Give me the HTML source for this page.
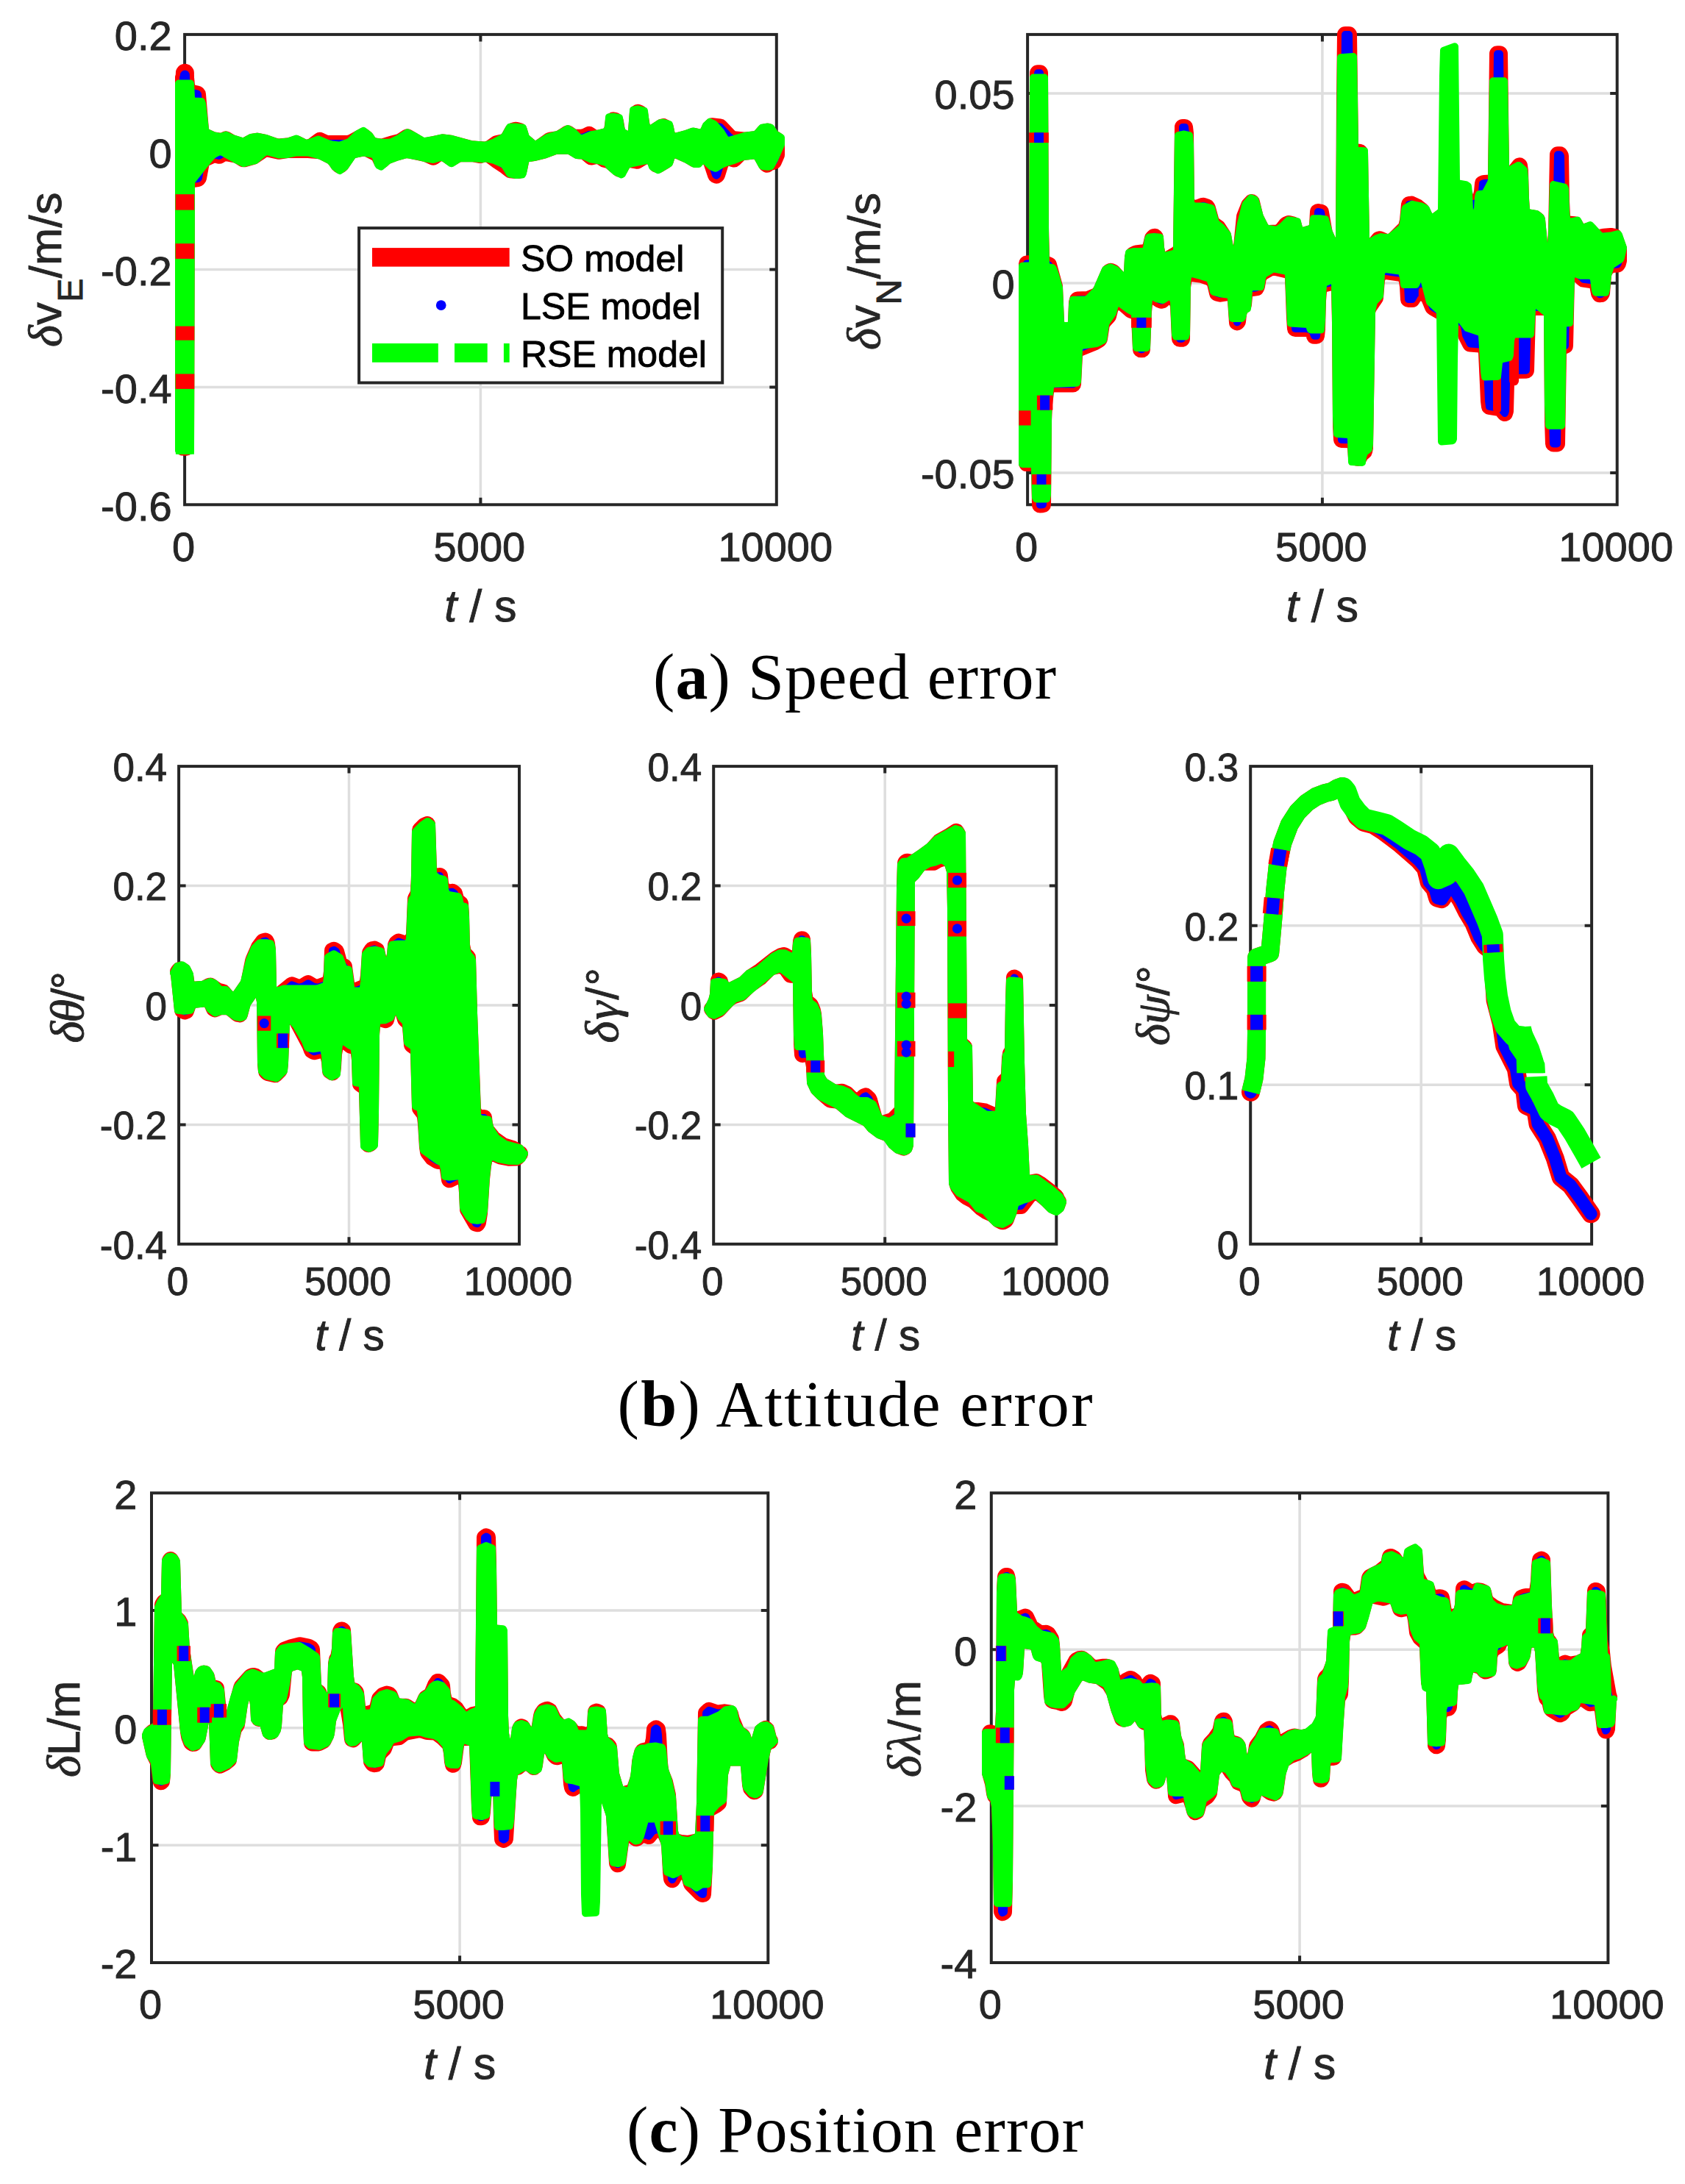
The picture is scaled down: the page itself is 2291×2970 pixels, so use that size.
<!DOCTYPE html>
<html lang="en"><head><meta charset="utf-8"><title>Navigation error comparison</title>
<style>html,body{margin:0;padding:0;background:#fff}svg{display:block}.t{font-family:"Liberation Sans", "DejaVu Sans", sans-serif;font-size:56px;fill:#262626;stroke:#262626;stroke-width:0.9px}.l{font-size:61px}.lg{font-size:50px;fill:#000;stroke:#000}.cap{font-family:"Liberation Serif", "DejaVu Serif", serif;font-size:88px;fill:#000}.m{font-family:"Liberation Serif", "DejaVu Serif", serif;font-style:italic}.r{fill:none;stroke:#f00;stroke-linejoin:round;stroke-linecap:round}.b{fill:none;stroke:#00f;stroke-linejoin:round;stroke-linecap:round}.g{fill:none;stroke:#0f0;stroke-linejoin:round;stroke-linecap:butt}</style></head><body>
<svg width="2291" height="2970" viewBox="0 0 2291 2970">
<rect width="2291" height="2970" fill="#fff"/>
<g id="p1">
<path d="M653.4 46.9V686.3M251.1 206.8H1055.8M251.1 366.6H1055.8M251.1 526.5H1055.8" stroke="#dedede" stroke-width="3.5" fill="none"/>
<path d="M653.4 686.3v-9.5M653.4 46.9v9.5M251.1 206.8h9.5M1055.8 206.8h-9.5M251.1 366.6h9.5M1055.8 366.6h-9.5M251.1 526.5h9.5M1055.8 526.5h-9.5" stroke="#262626" stroke-width="4" fill="none"/>
<rect x="251.1" y="46.9" width="804.7" height="639.4" stroke="#262626" stroke-width="4" fill="none"/>
<clipPath id="cp1"><rect x="211.1" y="6.9" width="884.7" height="719.4"/></clipPath>
<path d="M249 105.8 253 105.8 254 115.7 255 120.3 257 123.3 261 125.9 268 127.4 269 128.4 273 175.8 274 180.4 276 183.3 279 185.6 289 190.1 300 191.9 304 191.2 307 189.4 315 194 329 198.4 334 197.7 343 192.8 350 191.7 360 193.8 377 199.6 393 198.3 403 195.2 413 200.1 416 200.8 419 200.7 424 199 435 190.9 442 194.2 446 195 473 195 478 193.6 493 185.3 494 185.3 498 188.4 501 193.4 504 196.3 508 198.2 517 199.7 521 199.3 533 195.4 544 192.8 554 186.3 571 196.7 575 198.3 579 198.3 602 193.5 611 194.4 640 202.2 661 203.7 666 201.9 675 195.2 685 192.9 688 191.5 691 188.6 697 178 701 176.7 706 178 709 188.4 712 192.3 722 200.5 725 201.9 729 202.3 734 200.5 748 190.6 758 189.2 761 188.3 772 181.4 778 185.5 782 186.7 792 186.5 795 185.8 801 182.9 806 186.5 811 187.9 814 187.7 825 184.9 829 182.2 832 177.5 834 163.3 836 163.9 837 165.8 839 177.9 840 180.7 842 183.6 845 185.9 851 188.7 855 189 858 188.3 862 185.6 864 182.7 865 178.1 867 152.8 870 154 873 172.7 875 176.3 877 178.5 882 180.8 887 180.6 890 179.2 900 172.6 902 172.1 905 173.7 907 184.3 908 186 912 190 916 191.6 921 191.3 934 187.8 943 184.7 951 186.6 956 185.9 959 184.1 961 182 963 179.1 965 174.4 968 171.3 979 172.4 992 186.3 995 188.2 998 189.2 1013 190.6 1027 189.2 1030 188.2 1033 186.3 1039 179.6 1044 178.7 1049 185.9 1056 190.5 1056 210.4 1052 219.6 1046 221.5 1043 223.7 1042 223.3 1035 210.6 1033 208.5 1030 206.5 1025 205.3 1009 207.2 1005 209.5 998 216.5 993 214.9 990 214.8 987 215.5 983 217.9 980 221.8 975 237.8 974 238.6 973 238 967 220 964 215.7 962 214 958 212.4 954 212.4 950 214 947 216.9 945 216.8 936 211.4 920 204.4 915 204.7 910 207.3 907 211.2 905 218.3 895 224.3 893 223.7 890 217.4 888 215.3 884 212.9 879 212.2 875 213.3 866 218.7 856 217 851 218.2 847 221.7 843 229.1 842 229.8 830 219.4 827 218.1 822 216.9 816 212.9 811 211.9 804 213.4 796 206.8 792 205.4 786 205.2 778 200.3 775 199.1 772 198.7 755 198.9 740 204.5 726 208 717 209.3 714 210.3 711 212.5 709 215.5 706 230.1 705 231.9 702 232.1 694 231.3 688 226.4 677 219.1 666 210.9 662 209.3 658 209.3 653 211.1 643 209.2 626 209.2 621 210.6 614 215 606 209.5 602 208.3 599 208.1 596 208.8 589 213.7 579 209.3 556 204.2 552 204 537 208.3 526 212.4 523 214.2 519 218.1 518 217.6 515 211.5 512 208.6 499 202.2 494 201.4 480 204.3 476 206.4 473 209.8 464 223.3 462 225.1 460 223.4 456 217.5 453 214.1 439 206.8 435 205.4 419 204 392 203.9 379 205.8 365 202.8 362 202.7 359 203.4 356 204.9 345 212.6 332 216.3 331 216.3 324 212 321 210.8 307 207.9 303 208.7 298 211.8 293 210.6 289 210.9 279 215.5 276 217.7 274 220.7 270 242.1 269 243 262 244 258 246.1 255 250 254 254.6 253 608.6 249 608.6Z" fill="#f00" stroke="#f00" stroke-width="22" stroke-linejoin="round"/>
<path class="r" stroke-width="25" d="M251.4 99.3 251.4 607"/>
<path d="M249 105.8 253 105.8 254 115.7 255 120.3 257 123.3 261 125.9 268 127.4 269 128.4 273 175.8 274 180.4 276 183.3 279 185.6 289 190.1 300 191.9 304 191.2 307 189.4 315 194 329 198.4 334 197.7 343 192.8 350 191.7 360 193.8 377 199.6 393 198.3 403 195.2 413 200.1 416 200.8 419 200.7 424 199 435 190.9 442 194.2 446 195 473 195 478 193.6 493 185.3 494 185.3 498 188.4 501 193.4 504 196.3 508 198.2 517 199.7 521 199.3 533 195.4 544 192.8 554 186.3 571 196.7 575 198.3 579 198.3 602 193.5 611 194.4 640 202.2 661 203.7 666 201.9 675 195.2 685 192.9 688 191.5 691 188.6 697 178 701 176.7 706 178 709 188.4 712 192.3 722 200.5 725 201.9 729 202.3 734 200.5 748 190.6 758 189.2 761 188.3 772 181.4 778 185.5 782 186.7 792 186.5 795 185.8 801 182.9 806 186.5 811 187.9 814 187.7 825 184.9 829 182.2 832 177.5 834 163.3 836 163.9 837 165.8 839 177.9 840 180.7 842 183.6 845 185.9 851 188.7 855 189 858 188.3 862 185.6 864 182.7 865 178.1 867 152.8 870 154 873 172.7 875 176.3 877 178.5 882 180.8 887 180.6 890 179.2 900 172.6 902 172.1 905 173.7 907 184.3 908 186 912 190 916 191.6 921 191.3 934 187.8 943 184.7 951 186.6 956 185.9 959 184.1 961 182 963 179.1 965 174.4 968 171.3 979 172.4 992 186.3 995 188.2 998 189.2 1013 190.6 1027 189.2 1030 188.2 1033 186.3 1039 179.6 1044 178.7 1049 185.9 1056 190.5 1056 210.4 1052 219.6 1046 221.5 1043 223.7 1042 223.3 1035 210.6 1033 208.5 1030 206.5 1025 205.3 1009 207.2 1005 209.5 998 216.5 993 214.9 990 214.8 987 215.5 983 217.9 980 221.8 975 237.8 974 238.6 973 238 967 220 964 215.7 962 214 958 212.4 954 212.4 950 214 947 216.9 945 216.8 936 211.4 920 204.4 915 204.7 910 207.3 907 211.2 905 218.3 895 224.3 893 223.7 890 217.4 888 215.3 884 212.9 879 212.2 875 213.3 866 218.7 856 217 851 218.2 847 221.7 843 229.1 842 229.8 830 219.4 827 218.1 822 216.9 816 212.9 811 211.9 804 213.4 796 206.8 792 205.4 786 205.2 778 200.3 775 199.1 772 198.7 755 198.9 740 204.5 726 208 717 209.3 714 210.3 711 212.5 709 215.5 706 230.1 705 231.9 702 232.1 694 231.3 688 226.4 677 219.1 666 210.9 662 209.3 658 209.3 653 211.1 643 209.2 626 209.2 621 210.6 614 215 606 209.5 602 208.3 599 208.1 596 208.8 589 213.7 579 209.3 556 204.2 552 204 537 208.3 526 212.4 523 214.2 519 218.1 518 217.6 515 211.5 512 208.6 499 202.2 494 201.4 480 204.3 476 206.4 473 209.8 464 223.3 462 225.1 460 223.4 456 217.5 453 214.1 439 206.8 435 205.4 419 204 392 203.9 379 205.8 365 202.8 362 202.7 359 203.4 356 204.9 345 212.6 332 216.3 331 216.3 324 212 321 210.8 307 207.9 303 208.7 298 211.8 293 210.6 289 210.9 279 215.5 276 217.7 274 220.7 270 242.1 269 243 262 244 258 246.1 255 250 254 254.6 253 608.6 249 608.6Z" fill="#00f" stroke="#00f" stroke-width="10" stroke-linejoin="round"/>
<path class="b" stroke-width="13" d="M251.4 102 251.4 611"/>
<path d="M243 113.6 259 113.6 260 132.7 261 135.7 264 137.6 274 138.1 275 140.9 279 175.8 280 178.8 281 179.8 290 184.1 299 185.8 301 185.8 307 183.6 317 188.4 330 192.4 333 191.5 341 187 350 185.6 361 187.8 376 193.2 379 193.7 392 192.4 403 188.5 415 194.4 418 194.9 433 189.5 446 195.2 451 196.4 462 197.7 475 192.9 486 182.3 494 177.8 502 183.9 507 191 510 192.5 517 193.7 529 193.8 532 193.3 543 187.7 554 180.3 564 185.3 576 192.3 590 189.9 601 187.3 613 188.6 641 196.3 660 197.7 672 193.5 685 186.4 687 183.8 693 172.8 701 172.4 711 173.7 715 186.8 724 194.6 726 195.9 728 196.3 730 195.9 745 186.5 759 182.7 772 175.1 780 180 787 187 791 188.4 793 187.9 804 183.1 813 181.8 823 179.2 825 177.6 827 172.9 828 159.3 834 158.6 842 160.2 844 173.3 846 179.1 852 182.7 854 183.1 856 182.7 858 181.1 859 178.1 861 149.7 867 148.3 876 150.8 878 168.1 879 171.1 881 174 883 174.9 886 174.6 897 167.4 901 166.6 910 169.1 913 182.7 915 184.7 917 185.6 919 185.6 932 182.1 942 178.5 951 180.5 954 180.2 957 177.5 960 170.5 965 165.9 971 168.8 980 179 986 188.6 988 190.2 990 190.9 992 190.9 1013 184.7 1027 183 1030 180.8 1036 173.8 1044 172.5 1048 173.5 1054 182.4 1062 187 1062 196.4 1053 216.9 1048 226.1 1044 226.8 1037 226 1036 225 1030 214 1026 211.4 1010 213.1 998 217.9 988 220.9 982 223.3 973 228.8 967 226.3 959 218.8 956 218.2 954 218.7 952 220.2 950 222.9 944 223 933 216.6 920 210.7 918 210.3 915 211.2 913 212.7 910 222.3 895 231.3 887 226.8 885 220.8 883 218.9 881 218 879 218 854 223.3 852 224.9 846 236.6 845 237.4 837 233.5 828 225.5 826 222.5 824 221 813 218 804 216.6 792 211.5 784 211.1 775 205.5 772 204.7 756 204.8 742 210.1 727 213.9 717 215.5 715 217.1 714 220.1 711 235.7 710 237.6 702 238.1 693 236.3 687 226.3 684 223.3 672 218 660 215.1 656 216.3 642 215.1 626 215.2 624 215.8 614 222.2 613 221.9 604 215.3 601 214 599 214 589 217 578 215.2 567 212.5 553 210 538 214.3 528 218.1 518 226.6 515 225.1 514 223.7 511 214.1 509 210.8 507 209.9 494 207.4 482 210 480 210.9 469 226.7 462 232.1 455 226.8 451 220.8 448 218 435 211.6 419 207.5 403 207.3 391 209.9 379 210.4 364 206.2 362 206.2 359 207.6 347 218.2 331 222.1 320 216.7 301 206.1 298 206.4 291 209.9 288 212.2 275 227.8 261 245.6 260 248.6 259 612.8 243 612.8Z" fill="#0f0" stroke="#0f0" stroke-width="10" stroke-linejoin="round"/>
<path class="g" stroke-width="25" d="M251.4 121.4 251.4 617.7"/>
<rect x="238.6" y="264.2" width="25.6" height="21.4" fill="#f00"/>
<rect x="238.6" y="331.2" width="25.6" height="20.7" fill="#f00"/>
<rect x="238.6" y="443.6" width="25.6" height="19.1" fill="#f00"/>
<rect x="238.6" y="508.5" width="25.6" height="20.4" fill="#f00"/>
<g font-size="56">
<text class="t" x="233.6" y="68.2" text-anchor="end" style="font-size:56px">0.2</text>
<text class="t" x="233.6" y="228.1" text-anchor="end" style="font-size:56px">0</text>
<text class="t" x="233.6" y="387.9" text-anchor="end" style="font-size:56px">-0.2</text>
<text class="t" x="233.6" y="547.8" text-anchor="end" style="font-size:56px">-0.4</text>
<text class="t" x="233.6" y="707.6" text-anchor="end" style="font-size:56px">-0.6</text>
<text class="t" x="249.6" y="762.7" text-anchor="middle" style="font-size:56px">0</text>
<text class="t" x="651.9" y="762.7" text-anchor="middle" style="font-size:56px">5000</text>
<text class="t" x="1054.3" y="762.7" text-anchor="middle" style="font-size:56px">10000</text>
</g>
<text class="t" x="653.4" y="844.6" text-anchor="middle" style="font-size:61px"><tspan font-style="italic">t</tspan> / s</text>
</g>
<g id="p2">
<path d="M1797.9 46.9V686.3M1397.1 126.9H2198.7M1397.1 384.9H2198.7M1397.1 642.9H2198.7" stroke="#dedede" stroke-width="3.5" fill="none"/>
<path d="M1797.9 686.3v-9.5M1797.9 46.9v9.5M1397.1 126.9h9.5M2198.7 126.9h-9.5M1397.1 384.9h9.5M2198.7 384.9h-9.5M1397.1 642.9h9.5M2198.7 642.9h-9.5" stroke="#262626" stroke-width="4" fill="none"/>
<rect x="1397.1" y="46.9" width="801.6" height="639.4" stroke="#262626" stroke-width="4" fill="none"/>
<clipPath id="cp2"><rect x="1357.1" y="6.9" width="881.6" height="719.4"/></clipPath>
<path d="M1396 358.5 1402 358.1 1406 356 1409 352.1 1410 347.5 1411 99.3 1414 99.3 1415 309.3 1416 349.2 1417 353.8 1419 356.7 1422 359 1426 360.2 1434 389.5 1436 438 1437 442.6 1438 444.3 1442 447.8 1446 449 1453 449 1457 447.8 1460 445.6 1462 442.6 1463 438 1464 411.6 1465 407.6 1479 407.1 1491 402 1493 400.7 1497 395.6 1508 370 1510 368.7 1513 369.9 1521 378.8 1525 380.9 1528 381.3 1531 380.9 1534 379.5 1536 377.9 1538 374.9 1539 370.3 1540 350.3 1541 346.4 1545 344.4 1557 342.8 1561 340.7 1564 336.8 1567 324.1 1569 322.1 1570 321.8 1571 322.8 1572 337.3 1574 347 1576 350 1579 352.2 1583 353.4 1588 352.7 1601 344.8 1604 341.9 1605 340.1 1606 335.5 1608 172.9 1611 172.9 1612 181.4 1613 271.4 1614 275.9 1617 279.8 1620 281.8 1623 282.8 1628 282.6 1636 279.7 1641 281.6 1642 283.3 1647 301.6 1650 305.5 1656 309.8 1663 320.5 1666 336.3 1668 340.9 1670 343 1674 345.1 1679 345.4 1684 343 1687 339.1 1688 334.5 1692 294.5 1698 279.5 1702 275.1 1707 296 1715 311.8 1717 313.9 1720 315.9 1725 317.1 1736 316.4 1739 315.7 1743 313 1749 305.3 1752 304 1758 305.5 1759 306.4 1760 311 1762 315.3 1764 317.5 1767 319.2 1770 319.9 1773 319.8 1784 316.5 1788 313.8 1790 310.8 1791 306.2 1792 288 1793 288.1 1796 288.8 1801 317.5 1807 330.4 1810 333.3 1814 334.9 1818 334.9 1822 333.3 1824 331.6 1826 328.6 1827 324.1 1828 136.4 1829 47.1 1834 47.1 1836 195.7 1837 200.3 1840 204.2 1844 206.3 1849 207 1851 324 1852 328.6 1855 332.5 1860 334.8 1863 335 1866 334.3 1869 332.5 1875 325.4 1876 325.3 1883 328.4 1886 329.1 1890 328.8 1895 326.2 1910 311.3 1912 308.3 1914 299.8 1916 277.9 1919 277.6 1927 281.5 1933 286.3 1938 296.6 1941 299.5 1946 301.3 1951 300.7 1954 299.4 1962 293.5 1966 288.7 1987 272.4 1990 269.2 1992 266 1993 270.5 1994 272.3 1998 275.8 2001 276.8 2004 276.9 2009 275.2 2011 273.5 2013 270.5 2015 260.7 2016 249.7 2018 249 2026 248.6 2029 247.2 2032 244.3 2033 242.6 2034 238 2036 73.2 2039 73.2 2041 225.7 2042 230.2 2044 233.2 2048 235.9 2052 236.7 2056 235.9 2059 234.2 2066 225.3 2067 232.8 2068 269.4 2069 284.7 2070 289.3 2072 292.2 2075 294.5 2078 295.5 2087 296.8 2090 299.3 2093 330.6 2094 335.2 2095 337 2097 339.1 2100 340.9 2103 341.6 2107 341.2 2110 339.9 2113 337 2114 335.2 2115 330.6 2116 312.7 2118 210.3 2121 210.3 2122 212.1 2123 273.7 2124 293.8 2125 298.4 2126 300.2 2129 303 2132 304.4 2141 305.1 2145 312 2149 314.7 2154 315.4 2160 313.4 2161 313.8 2167 320.5 2171 322.6 2176 322.9 2181 321.6 2190 320.9 2195 321.8 2201 338.5 2201 354.2 2200 358.1 2199 359.5 2192 359.9 2188 361.5 2184 365.1 2181 370 2180 374.6 2178 398.6 2177 400.1 2175 400.2 2174 398.9 2172 387.8 2171 386.1 2169 383.9 2166 382.1 2163 381.1 2153 379.7 2147 373.8 2142 372.1 2138 372.5 2135 373.8 2133 375.5 2131 378.5 2130 383 2128 470.1 2125 471.1 2122 473.3 2120 476.3 2119 480.9 2117 603.4 2112 603.4 2111 572.9 2110 428.8 2109 424.2 2107 421.3 2104 419 2101 418 2087 417.9 2082 419.6 2080 421.3 2078 424.2 2077 428.8 2075 503.7 2057 504.1 2053 506.2 2050 510.1 2048 521 2047 559 2046 562 2042 557.3 2038 555 2025 552.8 2024 545.1 2021 479.4 2020 474.8 2018 471.9 2015 469.6 2012 468.6 1999 467.5 1993 455.7 1991 443.1 1989 440.2 1984 436.6 1964 429.7 1960 424.7 1949 418.4 1948 417.5 1942 403.1 1940 400.1 1938 398.5 1933 396.7 1928 397.4 1924 400.1 1920 407.1 1915 407.1 1914 389.4 1913 382.7 1912 378.1 1909 374.2 1904 371.9 1883 368.9 1880 369.6 1877 371.4 1873 376.3 1872 380.9 1870 404.8 1862 416.6 1860 420.4 1859 425 1856 609 1855 613.9 1851 617 1848 621.9 1847 622.7 1844 622.5 1843 608.9 1842 604.3 1841 602.6 1838 599.7 1835 598.3 1824 597.9 1823 579.4 1822 440 1821 395.2 1820 390.6 1818 387.7 1816 386 1813 384.6 1809 384.3 1799 386.7 1796 388.9 1794 391.9 1793 396.5 1792 408.8 1791 447.4 1790 456.8 1787 456.7 1785 451.6 1783 449.5 1780 447.7 1776 447 1761 447 1760 432.3 1758 378.1 1757 373.5 1755 370.6 1751 367.9 1732 363.2 1727 364.4 1716 370.7 1714 372.4 1711 377.6 1709 389.2 1708 391.4 1699 392.5 1696 394.2 1694 396.4 1693 398.1 1692 402.7 1691 413.8 1690 416.1 1687 419 1685 422.9 1684 427.5 1683 437.1 1682 438.4 1680 408.9 1679 404.3 1676 400.4 1673 398.6 1670 397.9 1659 399.7 1655 398.6 1652 385.6 1651 383.3 1649 380.3 1645 377.6 1634 373.8 1621 372 1617 372.3 1613 374.4 1610 378.3 1608 390.2 1607 460.8 1604 460.8 1602 416.3 1601 411.8 1598 406.7 1595 404.5 1591 403.3 1586 404 1583 405.8 1580 408.5 1579 408.7 1576 407.4 1572 404.3 1569 403.3 1565 403.3 1561 404.9 1559 406.6 1557 409.6 1556 414.1 1555 423.5 1553 475.2 1551 475.2 1549 433.2 1548 428.6 1547 426.9 1543 423.4 1538 421.9 1528 413.2 1525 411.5 1522 410.8 1519 410.9 1514 413.2 1512 415 1510 418 1507 429.8 1501 436.2 1498 440.6 1495 460.7 1494 462.2 1488 465.5 1467 474.2 1464 476.4 1462 479.4 1461 484 1459 522.5 1431 522.3 1426 524.6 1423 528.5 1422 533.1 1420 549.9 1419 572.3 1418 686.3 1414 686.5 1413 641.1 1412 636.5 1410 633.5 1406 630.9 1403 630.1 1396 630.1Z" fill="#f00" stroke="#f00" stroke-width="22" stroke-linejoin="round"/>
<path d="M1396 358.5 1402 358.1 1406 356 1409 352.1 1410 347.5 1411 99.3 1414 99.3 1415 309.3 1416 349.2 1417 353.8 1419 356.7 1422 359 1426 360.2 1434 389.5 1436 438 1437 442.6 1438 444.3 1442 447.8 1446 449 1453 449 1457 447.8 1460 445.6 1462 442.6 1463 438 1464 411.6 1465 407.6 1479 407.1 1491 402 1493 400.7 1497 395.6 1508 370 1510 368.7 1513 369.9 1521 378.8 1525 380.9 1528 381.3 1531 380.9 1534 379.5 1536 377.9 1538 374.9 1539 370.3 1540 350.3 1541 346.4 1545 344.4 1557 342.8 1561 340.7 1564 336.8 1567 324.1 1569 322.1 1570 321.8 1571 322.8 1572 337.3 1574 347 1576 350 1579 352.2 1583 353.4 1588 352.7 1601 344.8 1604 341.9 1605 340.1 1606 335.5 1608 172.9 1611 172.9 1612 181.4 1613 271.4 1614 275.9 1617 279.8 1620 281.8 1623 282.8 1628 282.6 1636 279.7 1641 281.6 1642 283.3 1647 301.6 1650 305.5 1656 309.8 1663 320.5 1666 336.3 1668 340.9 1670 343 1674 345.1 1679 345.4 1684 343 1687 339.1 1688 334.5 1692 294.5 1698 279.5 1702 275.1 1707 296 1715 311.8 1717 313.9 1720 315.9 1725 317.1 1736 316.4 1739 315.7 1743 313 1749 305.3 1752 304 1758 305.5 1759 306.4 1760 311 1762 315.3 1764 317.5 1767 319.2 1770 319.9 1773 319.8 1784 316.5 1788 313.8 1790 310.8 1791 306.2 1792 288 1793 288.1 1796 288.8 1801 317.5 1807 330.4 1810 333.3 1814 334.9 1818 334.9 1822 333.3 1824 331.6 1826 328.6 1827 324.1 1828 136.4 1829 47.1 1834 47.1 1836 195.7 1837 200.3 1840 204.2 1844 206.3 1849 207 1851 324 1852 328.6 1855 332.5 1860 334.8 1863 335 1866 334.3 1869 332.5 1875 325.4 1876 325.3 1883 328.4 1886 329.1 1890 328.8 1895 326.2 1910 311.3 1912 308.3 1914 299.8 1916 277.9 1919 277.6 1927 281.5 1933 286.3 1938 296.6 1941 299.5 1946 301.3 1951 300.7 1954 299.4 1962 293.5 1966 288.7 1987 272.4 1990 269.2 1992 266 1993 270.5 1994 272.3 1998 275.8 2001 276.8 2004 276.9 2009 275.2 2011 273.5 2013 270.5 2015 260.7 2016 249.7 2018 249 2026 248.6 2029 247.2 2032 244.3 2033 242.6 2034 238 2036 73.2 2039 73.2 2041 225.7 2042 230.2 2044 233.2 2048 235.9 2052 236.7 2056 235.9 2059 234.2 2066 225.3 2067 232.8 2068 269.4 2069 284.7 2070 289.3 2072 292.2 2075 294.5 2078 295.5 2087 296.8 2090 299.3 2093 330.6 2094 335.2 2095 337 2097 339.1 2100 340.9 2103 341.6 2107 341.2 2110 339.9 2113 337 2114 335.2 2115 330.6 2116 312.7 2118 210.3 2121 210.3 2122 212.1 2123 273.7 2124 293.8 2125 298.4 2126 300.2 2129 303 2132 304.4 2141 305.1 2145 312 2149 314.7 2154 315.4 2160 313.4 2161 313.8 2167 320.5 2171 322.6 2176 322.9 2181 321.6 2190 320.9 2195 321.8 2201 338.5 2201 354.2 2200 358.1 2199 359.5 2192 359.9 2188 361.5 2184 365.1 2181 370 2180 374.6 2178 398.6 2177 400.1 2175 400.2 2174 398.9 2172 387.8 2171 386.1 2169 383.9 2166 382.1 2163 381.1 2153 379.7 2147 373.8 2142 372.1 2138 372.5 2135 373.8 2133 375.5 2131 378.5 2130 383 2128 470.1 2125 471.1 2122 473.3 2120 476.3 2119 480.9 2117 603.4 2112 603.4 2111 572.9 2110 428.8 2109 424.2 2107 421.3 2104 419 2101 418 2087 417.9 2082 419.6 2080 421.3 2078 424.2 2077 428.8 2075 503.7 2057 504.1 2053 506.2 2050 510.1 2048 521 2047 559 2046 562 2042 557.3 2038 555 2025 552.8 2024 545.1 2021 479.4 2020 474.8 2018 471.9 2015 469.6 2012 468.6 1999 467.5 1993 455.7 1991 443.1 1989 440.2 1984 436.6 1964 429.7 1960 424.7 1949 418.4 1948 417.5 1942 403.1 1940 400.1 1938 398.5 1933 396.7 1928 397.4 1924 400.1 1920 407.1 1915 407.1 1914 389.4 1913 382.7 1912 378.1 1909 374.2 1904 371.9 1883 368.9 1880 369.6 1877 371.4 1873 376.3 1872 380.9 1870 404.8 1862 416.6 1860 420.4 1859 425 1856 609 1855 613.9 1851 617 1848 621.9 1847 622.7 1844 622.5 1843 608.9 1842 604.3 1841 602.6 1838 599.7 1835 598.3 1824 597.9 1823 579.4 1822 440 1821 395.2 1820 390.6 1818 387.7 1816 386 1813 384.6 1809 384.3 1799 386.7 1796 388.9 1794 391.9 1793 396.5 1792 408.8 1791 447.4 1790 456.8 1787 456.7 1785 451.6 1783 449.5 1780 447.7 1776 447 1761 447 1760 432.3 1758 378.1 1757 373.5 1755 370.6 1751 367.9 1732 363.2 1727 364.4 1716 370.7 1714 372.4 1711 377.6 1709 389.2 1708 391.4 1699 392.5 1696 394.2 1694 396.4 1693 398.1 1692 402.7 1691 413.8 1690 416.1 1687 419 1685 422.9 1684 427.5 1683 437.1 1682 438.4 1680 408.9 1679 404.3 1676 400.4 1673 398.6 1670 397.9 1659 399.7 1655 398.6 1652 385.6 1651 383.3 1649 380.3 1645 377.6 1634 373.8 1621 372 1617 372.3 1613 374.4 1610 378.3 1608 390.2 1607 460.8 1604 460.8 1602 416.3 1601 411.8 1598 406.7 1595 404.5 1591 403.3 1586 404 1583 405.8 1580 408.5 1579 408.7 1576 407.4 1572 404.3 1569 403.3 1565 403.3 1561 404.9 1559 406.6 1557 409.6 1556 414.1 1555 423.5 1553 475.2 1551 475.2 1549 433.2 1548 428.6 1547 426.9 1543 423.4 1538 421.9 1528 413.2 1525 411.5 1522 410.8 1519 410.9 1514 413.2 1512 415 1510 418 1507 429.8 1501 436.2 1498 440.6 1495 460.7 1494 462.2 1488 465.5 1467 474.2 1464 476.4 1462 479.4 1461 484 1459 522.5 1431 522.3 1426 524.6 1423 528.5 1422 533.1 1420 549.9 1419 572.3 1418 686.3 1414 686.5 1413 641.1 1412 636.5 1410 633.5 1406 630.9 1403 630.1 1396 630.1Z" fill="#00f" stroke="#00f" stroke-width="10" stroke-linejoin="round"/>
<path d="M2035.5 508.6 2035.5 556.4" fill="none" stroke="#f00" stroke-width="11" stroke-linecap="round"/>
<path d="M2058.6 459.5 2058.6 517.8" fill="none" stroke="#f00" stroke-width="13" stroke-linecap="round"/>
<path d="M1932.8 395.1 1932.8 405.8" fill="none" stroke="#f00" stroke-width="8" stroke-linecap="round"/>
<path d="M1390 361.7 1401 361.3 1403 359.7 1404 356.7 1405 105.6 1420 105.6 1421 319 1422 358.4 1423 361.4 1424 362.4 1426 363.3 1431 364.2 1432 365.4 1435 373.9 1440 391.4 1442 438 1443 441 1446 442.9 1452 443 1455 442 1456 441 1457 438 1458 415.5 1459 407.7 1475 407.7 1479 406.6 1490 395.6 1491 394 1503 366.4 1509 363.5 1510 363.4 1517 366.8 1526 374.9 1529 375.2 1531 374.3 1532 373.3 1533 370.3 1534 350.3 1535 343.6 1542 341.9 1554 341.8 1557 340.8 1558 339.8 1559 336.8 1561 325.2 1562 322.8 1569 321.9 1577 322.8 1578 337.3 1579 342.7 1580 345.7 1582 347.3 1585 347.6 1596 344.9 1599 343 1600 340 1602 184.1 1609 182.5 1617 184.1 1618 197.1 1619 274.6 1620 277.6 1622 279.4 1624 280.3 1636 280.4 1647 283 1653 303.1 1661 309.7 1669 319 1671 331.7 1673 338.3 1674 339.3 1676 340.2 1678 340.2 1681 338.3 1682 335.3 1687 303.6 1693 279.6 1694 277.3 1701 269.3 1706 271.3 1707 273.3 1713 294.4 1720 308.4 1723 310.8 1734 312.5 1737 312.2 1744 307.2 1752 299.2 1764 301.2 1765 306.4 1767 312 1769 313.6 1772 313.9 1782 310.8 1784 309.2 1785 306.2 1786 297.3 1794 297.3 1802 298.3 1807 316 1812 327.1 1815 329 1817 329 1819 328.1 1820 327.1 1821 324.1 1823 78.2 1840 77.1 1842 200.3 1843 203.3 1845 204.8 1855 205.3 1857 324.3 1858 327.3 1860 328.8 1863 329.2 1871 324.5 1878 322.1 1887 323.3 1891 321.9 1906 309.7 1908 303.6 1910 286.6 1911 282.8 1920 277.8 1932 280.3 1938 283.3 1939 284 1943 293.3 1944 294.3 1947 295.3 1951 294.2 1959 288 1960 285 1962 103 1963 68.6 1978 63.3 1980 244.8 1981 247.8 1983 249.3 1993 251.1 1996 253.2 1997 262.7 1998 286.1 1999 289.1 2001 290.6 2003 291.1 2005 290.6 2007 289.1 2009 283.4 2010 267.6 2011 264.3 2017 263.5 2020 261.6 2027 248.3 2028 245.3 2030 110.2 2045 110.2 2047 226.1 2048 229.1 2050 230.6 2052 231.1 2054 230.6 2064 225.1 2065 225 2072 231.2 2073 242.2 2074 272.2 2075 284.7 2076 287.7 2078 289.3 2089 290.9 2095 295.7 2096 298.3 2099 330.6 2100 333.6 2103 335.5 2106 335.2 2108 333.6 2109 330.6 2110 320.6 2112 251.1 2127 254.6 2128 257.1 2129 287.1 2130 296.7 2131 299.7 2132 300.7 2135 301.7 2145 299.6 2149 307.5 2152 309.3 2155 309 2162 306 2175 320 2178 321.7 2192 320.2 2200 318.2 2201 319.6 2207 336.8 2207 336.8 2204 350.4 2203 352.5 2192 359.8 2190 361.8 2186 374.4 2184 393.4 2183 397.7 2170 397.7 2169 395.2 2167 380.2 2166 377.2 2164 375.6 2161 374.7 2149 374.7 2141 371.8 2139 372.2 2137 373.8 2136 376.8 2134 439.1 2128 439.6 2126 441.1 2125 444.1 2123 578.7 2106 578.7 2105 549 2104 428.8 2103 425.8 2102 424.8 2091 415.9 2089 415 2087 415 2084 416.9 2083 419.9 2081 454.5 2060 454.5 2058 454.9 2056 456.5 2054 462.8 2053 482.8 2052 486.2 2042 488.3 2039 490.2 2038 493.2 2036 511.9 2019 512.6 2018 505 2015 456.4 2014 453.4 2012 451.8 1995 446.1 1987 435.7 1985 434.1 1982 433.8 1979 435.7 1978 438.7 1977 489 1976 597 1975 599.2 1960 600.4 1958 425.4 1957 422.4 1944 410.8 1937 383.4 1936 380.4 1935 379.4 1932 378.4 1929 379.4 1928 380.4 1925 387 1909 387 1908 377.1 1906 370.5 1905 369.5 1903 368.6 1883 365.8 1880 367.7 1879 368.9 1878 371.9 1876 402.5 1868 410.6 1865 423.6 1862 603.8 1861 610.9 1855 615.5 1853 621.3 1852 629 1838 628.1 1837 596 1836 593 1833 591.1 1818 589.9 1817 565.7 1816 429.7 1815 386.1 1814 383.1 1811 381.2 1808 381.6 1801 384.6 1800 385.6 1799 388.6 1798 400 1797 435 1796 448.4 1783 448.4 1782 448.3 1780 442.7 1778 441.1 1755 439.4 1752 373.5 1751 370.5 1749 368.9 1733 365.6 1730 365.9 1718 373.2 1716 378.2 1714 390.1 1702 390.2 1699 392.1 1698 395.1 1696 419.8 1693 421.3 1691 423.7 1689 431.7 1688 433 1676 433 1674 405.8 1673 402.8 1672 401.8 1670 400.9 1659 399.3 1650 396.8 1647 384.8 1645 379.7 1644 378.7 1632 374.9 1620 371.9 1618 372.3 1616 373.9 1615 376.9 1614 383.8 1613 453.8 1612 457.6 1599 457.6 1598 455.1 1596 410.1 1594 404.9 1592 403.3 1589 403 1581 407.9 1580 407.9 1572 405.9 1569 403.4 1566 403.1 1563 405 1562 408 1561 417 1559 472.9 1545 472.9 1544 443.4 1543 428.4 1542 425.4 1541 424.4 1535 421.3 1523 412.5 1521 412 1519 412.5 1516 414.8 1513 425.8 1504 438.5 1503 441.5 1500 462.5 1491 467 1471 469.9 1468 471.8 1467 474.8 1465 518.4 1464 520.7 1433 522 1431 522.4 1429 524 1428 527 1426 543.8 1425 565.3 1424 672.8 1423 678.4 1409 678.4 1408 676.6 1407 635.9 1406 632.9 1403 631 1390 630.9Z" fill="#0f0" stroke="#0f0" stroke-width="10" stroke-linejoin="round"/>
<rect x="1399.1" y="180.3" width="26.7" height="13.8" fill="#f00"/>
<rect x="1406" y="180.3" width="13" height="13.8" fill="#00f"/>
<rect x="1385.3" y="558.3" width="16.3" height="20.2" fill="#f00"/>
<rect x="1409.9" y="537.7" width="21.5" height="19.9" fill="#f00"/>
<rect x="1414.1" y="537.7" width="13" height="19.9" fill="#00f"/>
<rect x="1403.1" y="645.1" width="25.8" height="13.8" fill="#f00"/>
<rect x="1409.5" y="645.1" width="13" height="13.8" fill="#00f"/>
<rect x="1538.1" y="431.9" width="27.6" height="13.8" fill="#f00"/>
<rect x="1545.4" y="431.9" width="13" height="13.8" fill="#00f"/>
<g font-size="56">
<text class="t" x="1379.6" y="148.2" text-anchor="end" style="font-size:56px">0.05</text>
<text class="t" x="1379.6" y="406.2" text-anchor="end" style="font-size:56px">0</text>
<text class="t" x="1379.6" y="664.2" text-anchor="end" style="font-size:56px">-0.05</text>
<text class="t" x="1395.6" y="762.7" text-anchor="middle" style="font-size:56px">0</text>
<text class="t" x="1796.4" y="762.7" text-anchor="middle" style="font-size:56px">5000</text>
<text class="t" x="2197.2" y="762.7" text-anchor="middle" style="font-size:56px">10000</text>
</g>
<text class="t" x="1797.9" y="844.6" text-anchor="middle" style="font-size:61px"><tspan font-style="italic">t</tspan> / s</text>
</g>
<g id="p3">
<path d="M474.5 1042.1V1691.8M243.1 1204.5H706M243.1 1366.9H706M243.1 1529.4H706" stroke="#dedede" stroke-width="3.5" fill="none"/>
<path d="M474.5 1691.8v-9.5M474.5 1042.1v9.5M243.1 1204.5h9.5M706 1204.5h-9.5M243.1 1366.9h9.5M706 1366.9h-9.5M243.1 1529.4h9.5M706 1529.4h-9.5" stroke="#262626" stroke-width="4" fill="none"/>
<rect x="243.1" y="1042.1" width="462.9" height="649.7" stroke="#262626" stroke-width="4" fill="none"/>
<clipPath id="cp3"><rect x="203.1" y="1002.1" width="542.9" height="729.7"/></clipPath>
<path d="M242 1321.5 244 1319.1 246 1318.5 249 1320.4 252 1326.5 254 1339.4 256 1342.3 259 1344.6 264 1345.8 276 1344.8 279 1344 285 1340.7 286 1340.6 296 1347.5 303 1349.2 308 1355.3 312 1358.4 316 1359.5 321 1358.8 324 1357.1 326 1354.9 337 1338.9 338 1336.6 344 1307 345 1304.2 352 1288.1 358 1280.2 361 1279.6 362 1280.2 363 1283.6 364 1292.1 365 1342.2 366 1346.8 367 1348.5 371 1352 376 1353.2 379 1352.8 382 1351.6 397 1339.3 404 1342.2 408 1342.6 413 1340.9 419 1337.2 426 1341.6 431 1342.5 434 1342.1 445 1338.1 447 1336.4 449 1333.4 450 1328.8 451 1321.2 452 1292.6 454 1291.8 457 1293.7 461 1308.3 462 1310 464 1312.2 468 1314.7 471 1336.3 472 1340.9 473 1342.6 477 1346.1 482 1347.3 486 1346.5 495 1342.7 497 1341.1 499 1338.1 500 1333.5 501 1326.8 503 1295.8 506 1291.3 509 1290.6 512 1292.1 515 1306.8 517 1309.8 519 1311.5 522 1312.8 525 1313.2 528 1312.8 532 1310.7 535 1306.8 537 1298.2 538 1285.4 539 1282.7 542 1280.6 549 1282.9 554 1282.7 558 1280.6 562 1275.2 563 1270.7 565 1221.9 568 1216.4 569 1211.8 570 1190.6 571 1128.9 577 1122.9 581 1121.1 583 1180.7 584 1185.2 586 1188.2 590 1190.9 594 1191.7 598 1191 599 1200.7 600 1205.3 602 1208.6 604 1210.8 607 1212.5 611 1213.3 615 1212.8 618 1214.9 620 1222.8 622 1225.8 626 1229.1 627 1243.3 628 1285.3 630 1295.1 632 1298.1 636 1302.1 638 1377.4 643 1507.9 644 1512.5 646 1515.4 650 1518.7 653 1519.7 658 1519.9 659 1528.3 661 1536.4 671 1548.8 684 1557.9 697 1562 703 1565.8 705 1569 706 1569.4 707 1568.8 707 1568.8 706 1569.4 704 1573 702 1574.6 692 1574.8 680 1572.4 673 1569.1 669 1568.4 664 1569.6 660 1573 659 1574.8 657 1585.3 655 1603.3 652 1650.1 650 1662.4 649 1664.1 647 1663.7 636 1644.8 635 1621.5 634 1610.6 633 1606 632 1604.3 628 1600.8 623 1599.6 619 1600.4 611 1604.3 609 1590.1 608 1585.5 607 1583.8 603 1580.3 600 1579.3 595 1578.8 588 1574.4 582 1566.7 581 1560.2 579 1528.2 578 1519.5 577 1514.9 571 1507.1 569 1432.8 568 1428.2 567 1426.5 565 1424.3 560 1420.9 558 1396.9 557 1392.3 555 1389.3 551 1386.1 548 1375.7 545 1371.8 542 1370 539 1369.3 536 1369.5 533 1370.5 530 1372.7 528 1375.7 525 1386.6 524 1387.1 518 1385 514 1385.4 510 1387.5 507 1391.4 506 1396 505 1408 504 1514.4 503 1555.1 501 1556.2 499 1485.7 498 1481.2 497 1479.4 495 1477.3 490 1473.9 489 1441.8 488 1433 487 1428.4 484 1424.5 481 1422.8 477 1421.8 472 1417.9 468 1416.3 463 1416.6 460 1417.9 458 1419.6 456 1422.6 454 1433.2 453 1451 452 1458.4 449 1456.4 448 1443.3 446 1434.7 445 1433 442 1430.1 438 1428.5 434 1428.5 427 1430.2 424 1428.5 421 1420.5 403 1386.6 401 1384.4 398 1382.6 395 1381.9 391 1382.3 388 1383.7 385 1386.6 384 1388.3 383 1392.9 381 1446.3 380 1455.4 374 1461.3 364 1459 362 1457 361 1446.9 360 1361.9 358 1351.8 356 1348.8 352 1346.1 348 1345.4 344 1346.1 340 1348.8 332 1360 330 1363.8 326 1379.4 323 1378.7 314 1371.1 309 1369.1 299 1369.3 292 1372.3 291 1371.6 288 1364.6 286 1361.7 283 1359.4 279 1358.3 264 1359.7 260 1361.3 258 1363 256 1366 253 1374.8 251 1375.4 248 1373.6 243 1325.4 242 1321.5Z" fill="#f00" stroke="#f00" stroke-width="22" stroke-linejoin="round"/>
<path d="M242 1321.5 244 1319.1 246 1318.5 249 1320.4 252 1326.5 254 1339.4 256 1342.3 259 1344.6 264 1345.8 276 1344.8 279 1344 285 1340.7 286 1340.6 296 1347.5 303 1349.2 308 1355.3 312 1358.4 316 1359.5 321 1358.8 324 1357.1 326 1354.9 337 1338.9 338 1336.6 344 1307 345 1304.2 352 1288.1 358 1280.2 361 1279.6 362 1280.2 363 1283.6 364 1292.1 365 1342.2 366 1346.8 367 1348.5 371 1352 376 1353.2 379 1352.8 382 1351.6 397 1339.3 404 1342.2 408 1342.6 413 1340.9 419 1337.2 426 1341.6 431 1342.5 434 1342.1 445 1338.1 447 1336.4 449 1333.4 450 1328.8 451 1321.2 452 1292.6 454 1291.8 457 1293.7 461 1308.3 462 1310 464 1312.2 468 1314.7 471 1336.3 472 1340.9 473 1342.6 477 1346.1 482 1347.3 486 1346.5 495 1342.7 497 1341.1 499 1338.1 500 1333.5 501 1326.8 503 1295.8 506 1291.3 509 1290.6 512 1292.1 515 1306.8 517 1309.8 519 1311.5 522 1312.8 525 1313.2 528 1312.8 532 1310.7 535 1306.8 537 1298.2 538 1285.4 539 1282.7 542 1280.6 549 1282.9 554 1282.7 558 1280.6 562 1275.2 563 1270.7 565 1221.9 568 1216.4 569 1211.8 570 1190.6 571 1128.9 577 1122.9 581 1121.1 583 1180.7 584 1185.2 586 1188.2 590 1190.9 594 1191.7 598 1191 599 1200.7 600 1205.3 602 1208.6 604 1210.8 607 1212.5 611 1213.3 615 1212.8 618 1214.9 620 1222.8 622 1225.8 626 1229.1 627 1243.3 628 1285.3 630 1295.1 632 1298.1 636 1302.1 638 1377.4 643 1507.9 644 1512.5 646 1515.4 650 1518.7 653 1519.7 658 1519.9 659 1528.3 661 1536.4 671 1548.8 684 1557.9 697 1562 703 1565.8 705 1569 706 1569.4 707 1568.8 707 1568.8 706 1569.4 704 1573 702 1574.6 692 1574.8 680 1572.4 673 1569.1 669 1568.4 664 1569.6 660 1573 659 1574.8 657 1585.3 655 1603.3 652 1650.1 650 1662.4 649 1664.1 647 1663.7 636 1644.8 635 1621.5 634 1610.6 633 1606 632 1604.3 628 1600.8 623 1599.6 619 1600.4 611 1604.3 609 1590.1 608 1585.5 607 1583.8 603 1580.3 600 1579.3 595 1578.8 588 1574.4 582 1566.7 581 1560.2 579 1528.2 578 1519.5 577 1514.9 571 1507.1 569 1432.8 568 1428.2 567 1426.5 565 1424.3 560 1420.9 558 1396.9 557 1392.3 555 1389.3 551 1386.1 548 1375.7 545 1371.8 542 1370 539 1369.3 536 1369.5 533 1370.5 530 1372.7 528 1375.7 525 1386.6 524 1387.1 518 1385 514 1385.4 510 1387.5 507 1391.4 506 1396 505 1408 504 1514.4 503 1555.1 501 1556.2 499 1485.7 498 1481.2 497 1479.4 495 1477.3 490 1473.9 489 1441.8 488 1433 487 1428.4 484 1424.5 481 1422.8 477 1421.8 472 1417.9 468 1416.3 463 1416.6 460 1417.9 458 1419.6 456 1422.6 454 1433.2 453 1451 452 1458.4 449 1456.4 448 1443.3 446 1434.7 445 1433 442 1430.1 438 1428.5 434 1428.5 427 1430.2 424 1428.5 421 1420.5 403 1386.6 401 1384.4 398 1382.6 395 1381.9 391 1382.3 388 1383.7 385 1386.6 384 1388.3 383 1392.9 381 1446.3 380 1455.4 374 1461.3 364 1459 362 1457 361 1446.9 360 1361.9 358 1351.8 356 1348.8 352 1346.1 348 1345.4 344 1346.1 340 1348.8 332 1360 330 1363.8 326 1379.4 323 1378.7 314 1371.1 309 1369.1 299 1369.3 292 1372.3 291 1371.6 288 1364.6 286 1361.7 283 1359.4 279 1358.3 264 1359.7 260 1361.3 258 1363 256 1366 253 1374.8 251 1375.4 248 1373.6 243 1325.4 242 1321.5Z" fill="#00f" stroke="#00f" stroke-width="10" stroke-linejoin="round"/>
<path d="M236 1322.9 241 1314.1 247 1312.3 248 1312.5 254 1316.6 258 1324.9 259 1334.8 260 1337.8 262 1339.4 264 1339.8 276 1338.7 286 1335 292 1337.4 297 1343.7 299 1345.3 302 1346 307 1346 314 1352.6 316 1353.5 319 1353.2 321 1351.6 331 1337.3 332 1335.1 339 1305.8 346 1289.3 353 1282.3 362 1282.2 368 1283.1 369 1285.9 370 1292.3 371 1342.2 372 1345.2 374 1346.8 378 1347.2 386 1344.5 430 1344.5 433 1343.9 442 1340.6 443 1339.6 444 1336.6 445 1329.8 446 1301.7 454 1297.2 462 1302.2 467 1316 469 1317.6 474 1318.7 477 1342.6 478 1345.6 480 1347.2 482 1347.6 489 1347.6 492 1346.6 493 1345.6 494 1342.6 495 1335.1 497 1297.6 501 1293.3 502 1292.7 510 1291.7 518 1293.7 521 1305.9 523 1307.5 526 1307.8 529 1305.9 530 1302.9 531 1299 532 1287.6 533 1284.7 541 1283.8 552 1283.7 554 1282.8 556 1279.9 557 1276.9 559 1229.4 560 1222.9 562 1221.3 563 1218.3 564 1196.5 565 1131 574 1122.1 581 1117.1 582 1117.1 587 1120.7 589 1186.9 590 1189.9 596 1194.2 603 1195.8 604 1196.9 605 1209.9 607 1215 610 1216.9 623 1219.2 624 1221.3 626 1230.4 628 1232 632 1232.9 633 1247.6 634 1288.6 636 1296.8 641 1302.8 642 1306.2 644 1377.6 649 1515.6 650 1518.6 653 1521.5 664 1522.8 665 1529 667 1535.2 675 1547.4 687 1555.8 707 1561.4 712 1568.8 713 1568.7 713 1568.7 712 1569.9 710 1575.7 704 1578.9 692 1578.8 678 1576 670 1572.9 667 1573.2 665 1574.8 663 1583.4 661 1600.4 658 1646.4 656 1655.6 655 1658.9 649 1659.7 642 1658.7 637 1654.2 631 1644.7 630 1642.2 629 1616.2 628 1604.2 627 1601.2 625 1599.6 623 1599.2 611 1600.6 605 1599.8 604 1589.9 602 1582.1 601 1581.1 595 1578 576 1564.4 575 1555.9 573 1519.9 572 1510.5 571 1507.5 570 1506.5 565 1504.3 563 1426.5 562 1423.5 561 1422.5 554 1417.9 552 1392.1 551 1389.1 545 1383.1 542 1377.1 541 1376.1 539 1375.2 536 1375.5 534 1377.1 531 1383.9 523 1387.3 515 1387.8 513 1389.4 512 1392.4 511 1405.1 510 1513.1 509 1557.9 502 1561.8 495 1558.9 493 1478 492 1475 491 1474 489 1473.1 484 1472.3 483 1437.5 482 1427.9 481 1424.9 480 1423.9 476 1421.9 468 1416.3 465 1416 462 1417.9 461 1420.9 460 1427.7 458 1461 451 1464.2 444 1458.9 443 1455.3 442 1435.3 440 1426.9 438 1425.3 436 1424.9 426 1426.3 419 1425.3 418 1424 415 1416 403 1395.2 397 1388.7 395 1387.8 392 1388.1 390 1389.7 389 1392.7 387 1445 386 1456.4 376 1466.3 362 1462.8 356 1456.8 355 1444.2 354 1361.7 352 1353.4 350 1351.8 348 1351.4 346 1351.8 344 1353.4 336 1365.3 331 1382.6 327 1384.1 320 1382.7 311 1376.3 308 1375 300 1375.1 293 1377.5 292 1377.1 286 1372.8 282 1366.2 279 1364.3 264 1366 261 1368.8 259 1373.8 250 1374.9 242 1373.9 237 1325.4 236 1322.9Z" fill="#0f0" stroke="#0f0" stroke-width="10" stroke-linejoin="round"/>
<rect x="350.2" y="1381.5" width="18.1" height="20.2" fill="#f00"/>
<circle cx="359.2" cy="1391.6" r="6.6" fill="#00f"/>
<rect x="376" y="1405.5" width="17.1" height="19.6" fill="#f00"/>
<rect x="378.1" y="1405.5" width="13" height="19.6" fill="#00f"/>
<g font-size="53">
<text class="t" x="227.1" y="1061.9" text-anchor="end" style="font-size:53px">0.4</text>
<text class="t" x="227.1" y="1224.3" text-anchor="end" style="font-size:53px">0.2</text>
<text class="t" x="227.1" y="1386.7" text-anchor="end" style="font-size:53px">0</text>
<text class="t" x="227.1" y="1549.2" text-anchor="end" style="font-size:53px">-0.2</text>
<text class="t" x="227.1" y="1711.6" text-anchor="end" style="font-size:53px">-0.4</text>
<text class="t" x="241.6" y="1760.6" text-anchor="middle" style="font-size:53px">0</text>
<text class="t" x="473" y="1760.6" text-anchor="middle" style="font-size:53px">5000</text>
<text class="t" x="704.5" y="1760.6" text-anchor="middle" style="font-size:53px">10000</text>
</g>
<text class="t" x="475.6" y="1835.8" text-anchor="middle" style="font-size:58.3px"><tspan font-style="italic">t</tspan> / s</text>
</g>
<g id="p4">
<path d="M1203.2 1042.1V1691.8M970.2 1204.5H1436.3M970.2 1366.9H1436.3M970.2 1529.4H1436.3" stroke="#dedede" stroke-width="3.5" fill="none"/>
<path d="M1203.2 1691.8v-9.5M1203.2 1042.1v9.5M970.2 1204.5h9.5M1436.3 1204.5h-9.5M970.2 1366.9h9.5M1436.3 1366.9h-9.5M970.2 1529.4h9.5M1436.3 1529.4h-9.5" stroke="#262626" stroke-width="4" fill="none"/>
<rect x="970.2" y="1042.1" width="466.1" height="649.7" stroke="#262626" stroke-width="4" fill="none"/>
<clipPath id="cp4"><rect x="930.2" y="1002.1" width="546.1" height="729.7"/></clipPath>
<path d="M968 1372.1 969 1372.1 974 1361.4 975 1357.3 976 1352.7 977 1333.4 979 1334.9 980 1338.6 982 1342.4 985 1345.3 990 1347 993 1346.9 996 1345.9 1012 1337.8 1022 1328.2 1034 1320.5 1055 1304 1062 1299.9 1066 1299 1072 1302.5 1076 1303.7 1080 1303.3 1083 1302 1085 1300.3 1087 1297.3 1088 1292.7 1089 1280.2 1090 1277.2 1091 1277.4 1092 1295.6 1093 1348.6 1095 1360.1 1097 1363 1102 1366.9 1105 1374.4 1106 1379.2 1108 1405.2 1110 1461.5 1111 1466.1 1115 1472.9 1118 1476 1130 1483.6 1133 1485.1 1136 1485.8 1145 1484.8 1151 1487.5 1157 1493.5 1161 1495.9 1165 1496.6 1169 1495.9 1172 1494.1 1175 1491.2 1177 1490.4 1181 1494.2 1182 1496 1189 1521.2 1191 1524.2 1194 1526.4 1198 1527.6 1202 1527.5 1212 1524.2 1215 1522.5 1225 1512.6 1226 1510.8 1227 1506.3 1230 1206 1231 1173.6 1232 1172.1 1233 1171.7 1240 1172.8 1243 1172.3 1246 1170.9 1255 1164.9 1268 1155.2 1278 1144 1291 1136.8 1300 1130.8 1302 1134 1304 1413.2 1305 1417.8 1306 1419.5 1311 1424.1 1312 1497.9 1313 1502.5 1316 1506.4 1320 1508.7 1339 1511.5 1351 1516.8 1355 1516.8 1358 1515.7 1361 1513.5 1363 1510.5 1364 1505.9 1366 1470.6 1369 1468.2 1371 1465.2 1372 1460.7 1373 1438.7 1374 1432.9 1376 1429.9 1377 1425.3 1378 1360 1379 1329.5 1380 1330 1382 1444.8 1384 1514.8 1387 1556.3 1389 1597.9 1390 1602.5 1391 1604.2 1395 1607.7 1400 1608.9 1409 1607.1 1414 1610.1 1426 1619.2 1435 1627.1 1436 1628.3 1438 1633.7 1439 1634.2 1439 1634.2 1437 1639.8 1435 1641 1432 1639.3 1424 1631.4 1414 1623.2 1409 1621.4 1404 1622.2 1399 1625.5 1388 1640 1380 1640.2 1376 1642.1 1374 1643.7 1372 1646.7 1368 1657.8 1367 1659.4 1364 1661.3 1363 1661.3 1358 1658.8 1350 1651.1 1341 1647.1 1334 1642.4 1324 1632.8 1314 1627.5 1309 1623.5 1303 1614.2 1302 1611.8 1301 1608.3 1300 1505.4 1299 1235.4 1298 1184.4 1295 1173.9 1293 1170.9 1289 1168 1286 1167 1282 1167 1276 1168.9 1269 1172.8 1256 1172.8 1252 1174 1248 1177.2 1241 1186.8 1235 1192.7 1234 1194.4 1233 1199 1231 1556.4 1230 1559.9 1229 1560.6 1223 1558.4 1217 1553.4 1212 1546.1 1208 1541.9 1198 1538.2 1188 1530.7 1183 1524.4 1180 1521.6 1156 1509.6 1142 1498 1138 1496.7 1129 1495.5 1119 1486.7 1112 1479.7 1108 1471.1 1107 1450.6 1105 1439.6 1103 1436.6 1099 1433.9 1095 1433.2 1091 1433.9 1090 1419.3 1089 1336.6 1088 1332 1086 1329 1084 1327.4 1080 1325.8 1075 1325.7 1069 1317.1 1064 1313.8 1059 1313.1 1049 1315.2 1045 1317.7 1033 1329.6 1018 1340.1 1007 1351 996 1354.8 990 1358.8 977 1372.8 971 1375.8 969 1372.1 968 1372.1Z" fill="#f00" stroke="#f00" stroke-width="22" stroke-linejoin="round"/>
<path d="M968 1372.1 969 1372.1 974 1361.4 975 1357.3 976 1352.7 977 1333.4 979 1334.9 980 1338.6 982 1342.4 985 1345.3 990 1347 993 1346.9 996 1345.9 1012 1337.8 1022 1328.2 1034 1320.5 1055 1304 1062 1299.9 1066 1299 1072 1302.5 1076 1303.7 1080 1303.3 1083 1302 1085 1300.3 1087 1297.3 1088 1292.7 1089 1280.2 1090 1277.2 1091 1277.4 1092 1295.6 1093 1348.6 1095 1360.1 1097 1363 1102 1366.9 1105 1374.4 1106 1379.2 1108 1405.2 1110 1461.5 1111 1466.1 1115 1472.9 1118 1476 1130 1483.6 1133 1485.1 1136 1485.8 1145 1484.8 1151 1487.5 1157 1493.5 1161 1495.9 1165 1496.6 1169 1495.9 1172 1494.1 1175 1491.2 1177 1490.4 1181 1494.2 1182 1496 1189 1521.2 1191 1524.2 1194 1526.4 1198 1527.6 1202 1527.5 1212 1524.2 1215 1522.5 1225 1512.6 1226 1510.8 1227 1506.3 1230 1206 1231 1173.6 1232 1172.1 1233 1171.7 1240 1172.8 1243 1172.3 1246 1170.9 1255 1164.9 1268 1155.2 1278 1144 1291 1136.8 1300 1130.8 1302 1134 1304 1413.2 1305 1417.8 1306 1419.5 1311 1424.1 1312 1497.9 1313 1502.5 1316 1506.4 1320 1508.7 1339 1511.5 1351 1516.8 1355 1516.8 1358 1515.7 1361 1513.5 1363 1510.5 1364 1505.9 1366 1470.6 1369 1468.2 1371 1465.2 1372 1460.7 1373 1438.7 1374 1432.9 1376 1429.9 1377 1425.3 1378 1360 1379 1329.5 1380 1330 1382 1444.8 1384 1514.8 1387 1556.3 1389 1597.9 1390 1602.5 1391 1604.2 1395 1607.7 1400 1608.9 1409 1607.1 1414 1610.1 1426 1619.2 1435 1627.1 1436 1628.3 1438 1633.7 1439 1634.2 1439 1634.2 1437 1639.8 1435 1641 1432 1639.3 1424 1631.4 1414 1623.2 1409 1621.4 1404 1622.2 1399 1625.5 1388 1640 1380 1640.2 1376 1642.1 1374 1643.7 1372 1646.7 1368 1657.8 1367 1659.4 1364 1661.3 1363 1661.3 1358 1658.8 1350 1651.1 1341 1647.1 1334 1642.4 1324 1632.8 1314 1627.5 1309 1623.5 1303 1614.2 1302 1611.8 1301 1608.3 1300 1505.4 1299 1235.4 1298 1184.4 1295 1173.9 1293 1170.9 1289 1168 1286 1167 1282 1167 1276 1168.9 1269 1172.8 1256 1172.8 1252 1174 1248 1177.2 1241 1186.8 1235 1192.7 1234 1194.4 1233 1199 1231 1556.4 1230 1559.9 1229 1560.6 1223 1558.4 1217 1553.4 1212 1546.1 1208 1541.9 1198 1538.2 1188 1530.7 1183 1524.4 1180 1521.6 1156 1509.6 1142 1498 1138 1496.7 1129 1495.5 1119 1486.7 1112 1479.7 1108 1471.1 1107 1450.6 1105 1439.6 1103 1436.6 1099 1433.9 1095 1433.2 1091 1433.9 1090 1419.3 1089 1336.6 1088 1332 1086 1329 1084 1327.4 1080 1325.8 1075 1325.7 1069 1317.1 1064 1313.8 1059 1313.1 1049 1315.2 1045 1317.7 1033 1329.6 1018 1340.1 1007 1351 996 1354.8 990 1358.8 977 1372.8 971 1375.8 969 1372.1 968 1372.1Z" fill="#00f" stroke="#00f" stroke-width="10" stroke-linejoin="round"/>
<path d="M962 1372.1 968 1359.9 970 1353 971 1335.7 977 1334.7 985 1336.1 987 1339.1 989 1340.7 991 1341.1 993 1340.7 1009 1332.6 1018 1323.6 1031 1318.4 1052 1300.4 1060 1296.3 1067 1296.2 1076 1300.8 1078 1300.8 1080 1299.9 1081 1298.9 1082 1295.9 1083 1283.3 1084 1279.9 1090 1279.1 1097 1280 1098 1299.2 1099 1353.2 1100 1360.1 1101 1363.1 1107 1367.3 1111 1376.3 1112 1381.9 1114 1405.9 1116 1461.5 1117 1464.5 1120 1469.5 1122 1471.5 1135 1479.5 1145 1481.4 1154 1485.3 1162 1493 1167 1496.3 1170 1497 1179 1497 1187 1501.5 1195 1519.7 1197 1521.3 1208 1524.9 1211 1524.3 1219 1519.5 1220 1518.5 1221 1515.5 1224 1209.7 1225 1175.4 1228 1171.7 1235 1171.2 1252 1159.7 1264 1150.7 1274 1140.9 1299 1127.1 1305 1128.9 1308 1133.1 1310 1414.9 1311 1417.9 1317 1423.9 1318 1498 1319 1501 1321 1502.9 1340 1515.1 1343 1515.7 1353 1515.7 1355 1515.3 1357 1513.7 1358 1510.7 1360 1476.3 1363 1474.7 1365 1473 1366 1470 1367 1446 1368 1435 1370 1433.2 1371 1430.2 1372 1363.7 1373 1333.6 1379 1333.6 1386 1334.5 1388 1444.8 1390 1514.8 1393 1556.3 1395 1597.9 1396 1600.9 1398 1602.5 1400 1602.9 1409 1602.4 1410 1602.9 1429 1617 1441 1627.4 1445 1634.4 1445 1634.4 1442 1643.5 1437 1647.7 1436 1648 1429 1644.9 1411 1626.9 1408 1625.9 1405 1626.3 1397 1630.3 1390 1632.3 1382 1635.7 1380 1638.6 1377 1650.4 1373 1659.3 1363 1664.9 1354 1663.3 1348 1657.3 1339 1646.8 1330 1643.5 1320 1631.1 1304 1622.4 1297 1614.2 1296 1612.1 1295 1609.1 1294 1505.4 1293 1235.4 1292 1184.4 1289 1175.4 1287 1173.1 1282 1169.9 1279 1169.6 1271 1172.7 1263 1174.4 1254 1179.6 1245 1191.5 1240 1196 1239 1199 1237 1557 1235 1563.5 1230 1566 1229 1566 1220 1563.7 1212 1556.9 1205 1547.1 1195 1543.4 1184 1535.2 1177 1526.9 1152 1514.3 1140 1503.8 1115 1491.1 1107 1483.2 1102 1472.7 1101 1438.6 1100 1428.2 1099 1425.2 1096 1423.3 1085 1423.2 1084 1407.3 1083 1336.1 1082 1333.1 1081 1332.1 1064 1318.7 1062 1317.8 1059 1317.7 1050 1321.4 1010 1355.1 1000 1358.1 998 1359.2 981 1376 971 1380.7 966 1379 962 1372.1Z" fill="#0f0" stroke="#0f0" stroke-width="10" stroke-linejoin="round"/>
<rect x="1219.9" y="1239.2" width="24.6" height="19.9" fill="#f00"/>
<circle cx="1232.2" cy="1249.2" r="6.6" fill="#00f"/>
<rect x="1219.9" y="1349.7" width="24.6" height="20.9" fill="#f00"/>
<circle cx="1232.2" cy="1355.2" r="6.6" fill="#00f"/>
<circle cx="1232.2" cy="1365.2" r="6.6" fill="#00f"/>
<rect x="1219.9" y="1415.8" width="24.6" height="20.9" fill="#f00"/>
<circle cx="1232.2" cy="1421.2" r="6.6" fill="#00f"/>
<circle cx="1232.2" cy="1431.2" r="6.6" fill="#00f"/>
<rect x="1289.1" y="1186.9" width="24.9" height="20.2" fill="#f00"/>
<circle cx="1301.5" cy="1197" r="6.6" fill="#00f"/>
<rect x="1289.1" y="1252.3" width="24.9" height="21.2" fill="#f00"/>
<circle cx="1301.5" cy="1262.9" r="6.6" fill="#00f"/>
<rect x="1289.1" y="1364.4" width="24.9" height="20.2" fill="#f00"/>
<rect x="1289.1" y="1429.8" width="8.1" height="21.2" fill="#f00"/>
<rect x="1096.3" y="1442.2" width="24.9" height="16.2" fill="#f00"/>
<rect x="1102.3" y="1442.2" width="13" height="16.2" fill="#00f"/>
<rect x="1231.8" y="1527.8" width="12.5" height="18.7" fill="#f00"/>
<rect x="1231.5" y="1527.8" width="13" height="18.7" fill="#00f"/>
<g font-size="53">
<text class="t" x="954.2" y="1061.9" text-anchor="end" style="font-size:53px">0.4</text>
<text class="t" x="954.2" y="1224.3" text-anchor="end" style="font-size:53px">0.2</text>
<text class="t" x="954.2" y="1386.7" text-anchor="end" style="font-size:53px">0</text>
<text class="t" x="954.2" y="1549.2" text-anchor="end" style="font-size:53px">-0.2</text>
<text class="t" x="954.2" y="1711.6" text-anchor="end" style="font-size:53px">-0.4</text>
<text class="t" x="968.7" y="1760.6" text-anchor="middle" style="font-size:53px">0</text>
<text class="t" x="1201.8" y="1760.6" text-anchor="middle" style="font-size:53px">5000</text>
<text class="t" x="1434.8" y="1760.6" text-anchor="middle" style="font-size:53px">10000</text>
</g>
<text class="t" x="1204.2" y="1835.8" text-anchor="middle" style="font-size:58.3px"><tspan font-style="italic">t</tspan> / s</text>
</g>
<g id="p5">
<path d="M1932.2 1042.1V1691.8M1700.2 1258.7H2164.1M1700.2 1475.2H2164.1" stroke="#dedede" stroke-width="3.5" fill="none"/>
<path d="M1932.2 1691.8v-9.5M1932.2 1042.1v9.5M1700.2 1258.7h9.5M2164.1 1258.7h-9.5M1700.2 1475.2h9.5M2164.1 1475.2h-9.5" stroke="#262626" stroke-width="4" fill="none"/>
<rect x="1700.2" y="1042.1" width="463.9" height="649.7" stroke="#262626" stroke-width="4" fill="none"/>
<clipPath id="cp5"><rect x="1660.2" y="1002.1" width="543.9" height="729.7"/></clipPath>
<path class="r" stroke-width="25" d="M1700.5 1485.2 1704.9 1467.1 1708 1439.1 1708.6 1398.6 1708.6 1336.4 1708.6 1302.1 1726.7 1295.9 1729.8 1261.6 1731.4 1242.9 1733.6 1211.8 1737.6 1174.5 1743.8 1146.4 1753.2 1121.5 1764.1 1104.4 1776.5 1091.9 1789 1083.5 1801.4 1078.6 1810.8 1076.4 1818.6 1071.7 1824.8 1069.5 1831 1077.9 1838.8 1098.2 1845 1110.6 1854.4 1118.4 1866.8 1121.5 1879.3 1129.3 1891.7 1138.6 1904.2 1148 1916.6 1158.9 1929.1 1169.8 1938.4 1180.7 1943.1 1199.4 1950.9 1208.7 1954.6 1221.2 1960.2 1222.7 1964.9 1215.5 1966.4 1201.8 1975.8 1207.1 1986.7 1224.3 1994.5 1239.8 2003.8 1255.4 2011.6 1274.1 2019.4 1286.5 2028.7 1293.4 2031.2 1305.2 2031.2 1330.1 2033.1 1360.3 2041.2 1391.5 2045.8 1422.6 2061.4 1453.7 2064.5 1473.4 2072.9 1482.7 2075.4 1503.6 2087.9 1509.2 2091 1528.5 2103.4 1548.1 2114.3 1575.2 2122.1 1601 2135.5 1611.9 2148 1629 2160.4 1646.8 2163.2 1650.8"/>
<path class="b" stroke-width="17" d="M1700.5 1485.2 1704.9 1467.1 1708 1439.1 1708.6 1398.6 1708.6 1336.4 1708.6 1302.1 1726.7 1295.9 1729.8 1261.6 1731.4 1242.9 1733.6 1211.8 1737.6 1174.5 1743.8 1146.4 1753.2 1121.5 1764.1 1104.4 1776.5 1091.9 1789 1083.5 1801.4 1078.6 1810.8 1076.4 1818.6 1071.7 1824.8 1069.5 1831 1077.9 1838.8 1098.2 1845 1110.6 1854.4 1118.4 1866.8 1121.5 1879.3 1129.3 1891.7 1138.6 1904.2 1148 1916.6 1158.9 1929.1 1169.8 1938.4 1180.7 1943.1 1199.4 1950.9 1208.7 1954.6 1221.2 1960.2 1222.7 1964.9 1215.5 1966.4 1201.8 1975.8 1207.1 1986.7 1224.3 1994.5 1239.8 2003.8 1255.4 2011.6 1274.1 2019.4 1286.5 2028.7 1293.4 2031.2 1305.2 2031.2 1330.1 2033.1 1360.3 2041.2 1391.5 2045.8 1422.6 2061.4 1453.7 2064.5 1473.4 2072.9 1482.7 2075.4 1503.6 2087.9 1509.2 2091 1528.5 2103.4 1548.1 2114.3 1575.2 2122.1 1601 2135.5 1611.9 2148 1629 2160.4 1646.8 2163.2 1650.8"/>
<path class="g" stroke-width="25" d="M1700.5 1485.2 1704.9 1467.1 1708 1439.1 1708.6 1398.6 1708.6 1336.4 1708.6 1302.1 1726.7 1295.9 1729.8 1261.6 1731.4 1242.9 1733.6 1211.8 1737.6 1174.5 1743.8 1146.4 1753.2 1121.5 1764.1 1104.4 1776.5 1091.9 1789 1083.5 1801.4 1078.6 1810.8 1076.4 1818.6 1071.7 1824.8 1069.5 1830.1 1076.4"/>
<path class="g" stroke-width="29" d="M1821.7 1071.7 1826.3 1071.7 1830.1 1076.4 1835.7 1091.9 1845 1104.4 1854.4 1113.7 1873 1118.4 1885.5 1121.5 1897.9 1129.3 1916.6 1141.8 1932.2 1149.5 1944.7 1159.5 1951.5 1179.1 1955.5 1194.7 1966.4 1190 1968 1171.3 1969.6 1162 1978.9 1174.5 1991.4 1190 2003.8 1208.7 2013.2 1230.5 2022.5 1252.3 2029.3 1271 2030.6 1305.2 2032.5 1330.1 2035.6 1355 2040.2 1376.8 2046.8 1395.5 2058.3 1408.6 2070.8 1410.1 2078.5 1426.6 2084.1 1443.8 2084.1 1459.3"/>
<path class="g" stroke-width="30" d="M2088.5 1464 2089.1 1476.5 2097.8 1492 2106.6 1510.7 2115.9 1516.9 2128.4 1523.2 2140.8 1541.8 2153.3 1563.6 2163.5 1581.7"/>
<path d="M2058.3 1397.1 2081.6 1395.5 2084.8 1408.6 2092.9 1429.8 2100.3 1446 2101 1459.3 2062.3 1459.3 2061.7 1440.7 2052.4 1427.3 2048 1411.1 Z" fill="#0f0"/>
<path d="M1708.6 1313.9 1708.6 1334.8" fill="none" stroke="#f00" stroke-width="26"/>
<path d="M1708.6 1313.9 1708.6 1334.8" fill="none" stroke="#00f" stroke-width="17"/>
<path d="M1708.6 1379.9 1708.6 1400.5" fill="none" stroke="#f00" stroke-width="26"/>
<path d="M1708.6 1379.9 1708.6 1400.5" fill="none" stroke="#00f" stroke-width="17"/>
<path d="M1741 1155.1 1737.3 1176.9" fill="none" stroke="#f00" stroke-width="26"/>
<path d="M1741 1155.1 1737.3 1176.9" fill="none" stroke="#00f" stroke-width="17"/>
<path d="M1731.7 1221.2 1729.8 1242.9" fill="none" stroke="#f00" stroke-width="26"/>
<path d="M1731.7 1221.2 1729.8 1242.9" fill="none" stroke="#00f" stroke-width="17"/>
<path d="M2030 1284.4 2030.6 1295.3" fill="none" stroke="#f00" stroke-width="26"/>
<path d="M2030 1284.4 2030.6 1295.3" fill="none" stroke="#00f" stroke-width="17"/>
<g font-size="53">
<text class="t" x="1684.2" y="1061.9" text-anchor="end" style="font-size:53px">0.3</text>
<text class="t" x="1684.2" y="1278.5" text-anchor="end" style="font-size:53px">0.2</text>
<text class="t" x="1684.2" y="1495" text-anchor="end" style="font-size:53px">0.1</text>
<text class="t" x="1684.2" y="1711.6" text-anchor="end" style="font-size:53px">0</text>
<text class="t" x="1698.7" y="1760.6" text-anchor="middle" style="font-size:53px">0</text>
<text class="t" x="1930.7" y="1760.6" text-anchor="middle" style="font-size:53px">5000</text>
<text class="t" x="2162.6" y="1760.6" text-anchor="middle" style="font-size:53px">10000</text>
</g>
<text class="t" x="1933.2" y="1835.8" text-anchor="middle" style="font-size:58.3px"><tspan font-style="italic">t</tspan> / s</text>
</g>
<g id="p6">
<path d="M625.1 2030.3V2669M206 2190H1044.3M206 2349.7H1044.3M206 2509.3H1044.3" stroke="#dedede" stroke-width="3.5" fill="none"/>
<path d="M625.1 2669v-9.5M625.1 2030.3v9.5M206 2190h9.5M1044.3 2190h-9.5M206 2349.7h9.5M1044.3 2349.7h-9.5M206 2509.3h9.5M1044.3 2509.3h-9.5" stroke="#262626" stroke-width="4" fill="none"/>
<rect x="206" y="2030.3" width="838.3" height="638.7" stroke="#262626" stroke-width="4" fill="none"/>
<clipPath id="cp6"><rect x="166" y="1990.3" width="918.3" height="718.7"/></clipPath>
<path d="M204 2360.8 206 2357.1 209 2354.7 213 2353.2 216 2350.9 218 2348 219 2343.4 221 2182.3 223 2179 226 2177 228 2174.8 229 2173.1 230 2168.5 231 2122.5 232 2121.1 234 2124.4 236 2193.1 237 2197.7 238 2199.5 243 2204.3 245 2208 247 2242.5 253 2282.1 255 2286 258 2288.9 262 2290.5 267 2290.2 270 2288.9 273 2286 274 2284.2 276 2276.6 277 2275.8 278 2275.8 281 2280.3 283 2289.5 284 2291.3 288 2294.7 294 2296.2 297 2326.9 298 2331.5 300 2334.5 303 2336.7 307 2337.9 311 2337.5 314 2336.2 317 2333.3 319 2328.9 328 2295.6 329 2293.4 341 2280.2 344 2278.9 347 2279.5 353 2284.3 356 2285.6 359 2286 363 2285.3 379 2279 381 2277.3 383 2274.3 384 2269.8 385 2245.9 387 2243.5 395 2240.5 408 2237.3 419 2239.5 423 2241.7 424 2243 426 2291.1 427 2295.7 428 2297.4 430 2299.6 433 2301.4 436 2309 440 2312.5 443 2313.5 446 2313.6 449 2312.9 452 2311.2 455 2307.3 456 2302.7 457 2262.7 458 2256.8 460 2253.7 462 2242.4 463 2218.4 464 2216.6 465 2216.5 466 2217.2 470 2280.2 472 2292.7 475 2296.6 478 2298.4 482 2299.4 484 2301.7 486 2320.2 487 2324.8 489 2327.7 491 2329.4 494 2330.8 498 2331.1 506 2329.2 510 2326.8 513 2322.9 516 2310.4 521 2305.4 526 2303.6 529 2304.4 530 2305.7 534 2315.8 538 2319.3 542 2320.5 552 2320.7 559 2325.3 562 2326.3 565 2326.4 568 2325.7 571 2323.9 573 2321.8 575 2318.6 579 2309.6 585 2305.8 587 2303.6 592 2291.3 595 2287.1 596 2287.1 597 2287.6 601 2292.2 602 2303.4 604 2312.7 605 2314.4 609 2317.9 615 2319.7 620 2323.8 624 2329.8 627 2333.2 631 2335.3 636 2335.5 639 2334.5 643 2332.1 649 2330.8 652 2329.5 654 2327.8 656 2324.8 657 2320.3 659 2090.9 661 2089.5 663 2090.6 664 2125.4 665 2209.8 666 2214.4 669 2218.3 673 2220.4 679 2221 680 2332.6 681 2357.6 683 2368.5 685 2371.4 688 2374.2 692 2375.8 696 2375.8 700 2374.2 703 2371.3 704 2369.6 705 2365 707 2351.5 708 2348.9 709 2348.4 710 2348.8 714 2355.4 718 2358.1 721 2358.8 725 2358.6 730 2356.3 733 2352.4 736 2333.8 737 2330.5 740 2326.1 744 2324.8 747 2326.3 752 2337 759 2345.9 761 2347.6 766 2349.3 773 2348.5 775 2350.4 778 2354.9 781 2357.2 786 2358.6 791 2358.2 794 2359.5 797 2359.9 800 2359.5 803 2358.1 806 2355.5 808 2352.6 809 2348 810 2328 811 2327.6 813 2328.2 815 2358.7 816 2363.3 817 2366.5 819 2369.5 822 2371.7 826 2373.2 828 2375.6 831 2412.4 837 2433.7 839 2436.6 841 2438.3 844 2439.7 848 2440.1 858 2437.4 861 2435.2 863 2432.2 867 2420.6 868 2416.1 869 2410.3 870 2396.3 873 2383.3 874 2381.6 875 2381.1 882 2379.3 886 2375.8 887 2374 889 2364.7 890 2351.8 892 2350.3 894 2351.8 895 2359.6 897 2397.6 898 2406.2 899 2410.8 904 2423.3 908 2440.9 911 2490.6 912 2495.2 914 2500.2 918 2503.6 925 2505.9 936 2507 948 2504.2 951 2502.8 953 2501.2 955 2498.2 956 2493.6 958 2452.7 960 2329.5 964 2325.8 975 2329.6 985 2328.3 992 2329.3 993 2330.6 995 2338.6 1002 2355.4 1005 2358.3 1009 2360.4 1010 2361.8 1012 2368.9 1013 2370.6 1015 2372.8 1018 2374.5 1021 2375.2 1024 2375.1 1027 2374.1 1030 2371.8 1032 2368.9 1036 2354.3 1041 2351 1042 2351.7 1045 2363.7 1046 2366.6 1047 2367.6 1047 2367.6 1046 2366.6 1045 2367.5 1040 2372.5 1038 2375.4 1034 2391.9 1027 2435.6 1026 2436.3 1025 2436.2 1021 2431.7 1020 2426.9 1018 2401.5 1017 2397 1014 2393.1 1011 2391.3 1008 2390.6 992 2390.6 987 2392.3 985 2394 983 2397 979 2412.5 977 2451.7 973 2455 965 2459.5 963 2461.1 961 2464.1 960 2468.7 959 2487.7 958 2538.6 956 2576.1 955 2576.1 953 2574.8 940 2561.8 937 2551.2 935 2548.3 932 2546 927 2544.8 922 2546 920 2547.3 917 2550.7 914 2556.3 913 2554.9 912 2545.6 910 2508.5 909 2503.9 905 2494.6 903 2491.6 899 2488.9 895 2488.2 891 2488.5 887 2490.6 882 2496.9 878 2495.4 873 2495.3 869 2496.9 866 2499.8 865 2500 861 2496.9 857 2495.3 852 2495.5 848 2497.6 845 2501.5 844 2506.1 840 2535.3 839 2533.5 835 2469 834 2464.4 828 2446.4 827 2444.7 823 2441.2 818 2439.6 806 2434.1 798 2433.1 795 2430.2 791 2428.3 788 2427.9 785 2428.3 782 2429.7 779 2432 778 2431.1 777 2425.7 775 2398.5 774 2393.9 773 2392.2 770 2389.3 766 2387.7 763 2387.6 757 2389.3 756 2389 754 2386.9 750 2378.5 748 2376.3 745 2374.5 741 2373.8 737 2374.5 734 2375.8 731 2378.7 730 2380.5 729 2385.1 727 2400.1 726 2403 720 2398 717 2397 713 2397 709 2398.6 704 2402.8 701 2403.2 698 2404.6 696 2406.3 694 2409.2 692 2420 687 2500.3 685 2501.8 683 2500.8 682 2476.8 681 2423.1 680 2418.5 678 2415.5 676 2413.8 673 2412.5 668 2412.3 663 2414.6 660 2418.5 659 2423.1 656 2463.5 655 2471 653 2471.3 652 2458.6 649 2373.9 648 2369.3 647 2367.6 643 2364.1 639 2363 629 2363.1 625 2364.7 622 2367.6 621 2369.3 620 2373.9 617 2396.7 616 2399.8 615 2395.4 614 2383.2 612 2373.3 610 2370.4 603 2363.4 595 2357.2 591 2355.6 581 2355.1 574 2352.8 570 2352.3 552 2355.7 549 2357.1 542 2362.4 533 2363.3 530 2364.5 527 2366.7 525 2369.7 522 2377.6 517 2382.6 515 2385.6 514 2388.2 512 2397.7 511 2398.9 509 2399.2 507 2398.5 505 2395.6 503 2368 502 2363.4 500 2360.5 498 2358.8 495 2357.4 491 2357 486 2358.8 480 2365.3 479 2365 477 2344.1 473 2320.3 471 2317.4 469 2315.7 466 2314.3 463 2313.9 460 2314.3 457 2315.7 455 2317.4 453 2320.3 447 2335.3 446 2339.9 444 2356.8 443 2360 440 2366.2 439 2367.5 433 2370.5 425 2370.6 424 2370 423 2346.7 422 2280.7 421 2272.3 420 2267.8 418 2264.8 415 2262.5 408 2259.8 405 2259.3 402 2259.7 394 2262.1 390 2264.8 387 2268.9 386 2273.5 383 2304.2 381 2308.4 377 2311.1 375 2314.1 374 2318.6 372 2347 371 2351.1 369 2354.7 367 2355 364 2343.3 362 2340.3 360 2338.6 357 2337.3 352 2337 351 2317.6 349 2306.7 348 2304.9 344 2301.5 339 2300.3 334 2301.5 330 2304.9 328 2309.2 326 2317.5 322 2345.3 318 2351.1 314 2367.7 311 2393.2 306 2397.2 299 2400.8 297 2398.4 295 2340.2 294 2335.6 291 2331.7 286 2329.3 281 2329.6 278 2330.9 276 2332.6 274 2335.6 269 2362.6 264 2370.7 262 2370.9 260 2369.3 257 2361.4 256 2355 247 2263.5 246 2258.9 242 2253.4 239 2251.2 234 2250 229 2251.2 225 2254.6 224 2256.4 223 2261 221 2412.3 220 2422.5 219 2423.3 218 2419.2 216 2400.9 215 2396.3 210 2386.3 209 2383.3 204 2360.8Z" fill="#f00" stroke="#f00" stroke-width="22" stroke-linejoin="round"/>
<path d="M204 2360.8 206 2357.1 209 2354.7 213 2353.2 216 2350.9 218 2348 219 2343.4 221 2182.3 223 2179 226 2177 228 2174.8 229 2173.1 230 2168.5 231 2122.5 232 2121.1 234 2124.4 236 2193.1 237 2197.7 238 2199.5 243 2204.3 245 2208 247 2242.5 253 2282.1 255 2286 258 2288.9 262 2290.5 267 2290.2 270 2288.9 273 2286 274 2284.2 276 2276.6 277 2275.8 278 2275.8 281 2280.3 283 2289.5 284 2291.3 288 2294.7 294 2296.2 297 2326.9 298 2331.5 300 2334.5 303 2336.7 307 2337.9 311 2337.5 314 2336.2 317 2333.3 319 2328.9 328 2295.6 329 2293.4 341 2280.2 344 2278.9 347 2279.5 353 2284.3 356 2285.6 359 2286 363 2285.3 379 2279 381 2277.3 383 2274.3 384 2269.8 385 2245.9 387 2243.5 395 2240.5 408 2237.3 419 2239.5 423 2241.7 424 2243 426 2291.1 427 2295.7 428 2297.4 430 2299.6 433 2301.4 436 2309 440 2312.5 443 2313.5 446 2313.6 449 2312.9 452 2311.2 455 2307.3 456 2302.7 457 2262.7 458 2256.8 460 2253.7 462 2242.4 463 2218.4 464 2216.6 465 2216.5 466 2217.2 470 2280.2 472 2292.7 475 2296.6 478 2298.4 482 2299.4 484 2301.7 486 2320.2 487 2324.8 489 2327.7 491 2329.4 494 2330.8 498 2331.1 506 2329.2 510 2326.8 513 2322.9 516 2310.4 521 2305.4 526 2303.6 529 2304.4 530 2305.7 534 2315.8 538 2319.3 542 2320.5 552 2320.7 559 2325.3 562 2326.3 565 2326.4 568 2325.7 571 2323.9 573 2321.8 575 2318.6 579 2309.6 585 2305.8 587 2303.6 592 2291.3 595 2287.1 596 2287.1 597 2287.6 601 2292.2 602 2303.4 604 2312.7 605 2314.4 609 2317.9 615 2319.7 620 2323.8 624 2329.8 627 2333.2 631 2335.3 636 2335.5 639 2334.5 643 2332.1 649 2330.8 652 2329.5 654 2327.8 656 2324.8 657 2320.3 659 2090.9 661 2089.5 663 2090.6 664 2125.4 665 2209.8 666 2214.4 669 2218.3 673 2220.4 679 2221 680 2332.6 681 2357.6 683 2368.5 685 2371.4 688 2374.2 692 2375.8 696 2375.8 700 2374.2 703 2371.3 704 2369.6 705 2365 707 2351.5 708 2348.9 709 2348.4 710 2348.8 714 2355.4 718 2358.1 721 2358.8 725 2358.6 730 2356.3 733 2352.4 736 2333.8 737 2330.5 740 2326.1 744 2324.8 747 2326.3 752 2337 759 2345.9 761 2347.6 766 2349.3 773 2348.5 775 2350.4 778 2354.9 781 2357.2 786 2358.6 791 2358.2 794 2359.5 797 2359.9 800 2359.5 803 2358.1 806 2355.5 808 2352.6 809 2348 810 2328 811 2327.6 813 2328.2 815 2358.7 816 2363.3 817 2366.5 819 2369.5 822 2371.7 826 2373.2 828 2375.6 831 2412.4 837 2433.7 839 2436.6 841 2438.3 844 2439.7 848 2440.1 858 2437.4 861 2435.2 863 2432.2 867 2420.6 868 2416.1 869 2410.3 870 2396.3 873 2383.3 874 2381.6 875 2381.1 882 2379.3 886 2375.8 887 2374 889 2364.7 890 2351.8 892 2350.3 894 2351.8 895 2359.6 897 2397.6 898 2406.2 899 2410.8 904 2423.3 908 2440.9 911 2490.6 912 2495.2 914 2500.2 918 2503.6 925 2505.9 936 2507 948 2504.2 951 2502.8 953 2501.2 955 2498.2 956 2493.6 958 2452.7 960 2329.5 964 2325.8 975 2329.6 985 2328.3 992 2329.3 993 2330.6 995 2338.6 1002 2355.4 1005 2358.3 1009 2360.4 1010 2361.8 1012 2368.9 1013 2370.6 1015 2372.8 1018 2374.5 1021 2375.2 1024 2375.1 1027 2374.1 1030 2371.8 1032 2368.9 1036 2354.3 1041 2351 1042 2351.7 1045 2363.7 1046 2366.6 1047 2367.6 1047 2367.6 1046 2366.6 1045 2367.5 1040 2372.5 1038 2375.4 1034 2391.9 1027 2435.6 1026 2436.3 1025 2436.2 1021 2431.7 1020 2426.9 1018 2401.5 1017 2397 1014 2393.1 1011 2391.3 1008 2390.6 992 2390.6 987 2392.3 985 2394 983 2397 979 2412.5 977 2451.7 973 2455 965 2459.5 963 2461.1 961 2464.1 960 2468.7 959 2487.7 958 2538.6 956 2576.1 955 2576.1 953 2574.8 940 2561.8 937 2551.2 935 2548.3 932 2546 927 2544.8 922 2546 920 2547.3 917 2550.7 914 2556.3 913 2554.9 912 2545.6 910 2508.5 909 2503.9 905 2494.6 903 2491.6 899 2488.9 895 2488.2 891 2488.5 887 2490.6 882 2496.9 878 2495.4 873 2495.3 869 2496.9 866 2499.8 865 2500 861 2496.9 857 2495.3 852 2495.5 848 2497.6 845 2501.5 844 2506.1 840 2535.3 839 2533.5 835 2469 834 2464.4 828 2446.4 827 2444.7 823 2441.2 818 2439.6 806 2434.1 798 2433.1 795 2430.2 791 2428.3 788 2427.9 785 2428.3 782 2429.7 779 2432 778 2431.1 777 2425.7 775 2398.5 774 2393.9 773 2392.2 770 2389.3 766 2387.7 763 2387.6 757 2389.3 756 2389 754 2386.9 750 2378.5 748 2376.3 745 2374.5 741 2373.8 737 2374.5 734 2375.8 731 2378.7 730 2380.5 729 2385.1 727 2400.1 726 2403 720 2398 717 2397 713 2397 709 2398.6 704 2402.8 701 2403.2 698 2404.6 696 2406.3 694 2409.2 692 2420 687 2500.3 685 2501.8 683 2500.8 682 2476.8 681 2423.1 680 2418.5 678 2415.5 676 2413.8 673 2412.5 668 2412.3 663 2414.6 660 2418.5 659 2423.1 656 2463.5 655 2471 653 2471.3 652 2458.6 649 2373.9 648 2369.3 647 2367.6 643 2364.1 639 2363 629 2363.1 625 2364.7 622 2367.6 621 2369.3 620 2373.9 617 2396.7 616 2399.8 615 2395.4 614 2383.2 612 2373.3 610 2370.4 603 2363.4 595 2357.2 591 2355.6 581 2355.1 574 2352.8 570 2352.3 552 2355.7 549 2357.1 542 2362.4 533 2363.3 530 2364.5 527 2366.7 525 2369.7 522 2377.6 517 2382.6 515 2385.6 514 2388.2 512 2397.7 511 2398.9 509 2399.2 507 2398.5 505 2395.6 503 2368 502 2363.4 500 2360.5 498 2358.8 495 2357.4 491 2357 486 2358.8 480 2365.3 479 2365 477 2344.1 473 2320.3 471 2317.4 469 2315.7 466 2314.3 463 2313.9 460 2314.3 457 2315.7 455 2317.4 453 2320.3 447 2335.3 446 2339.9 444 2356.8 443 2360 440 2366.2 439 2367.5 433 2370.5 425 2370.6 424 2370 423 2346.7 422 2280.7 421 2272.3 420 2267.8 418 2264.8 415 2262.5 408 2259.8 405 2259.3 402 2259.7 394 2262.1 390 2264.8 387 2268.9 386 2273.5 383 2304.2 381 2308.4 377 2311.1 375 2314.1 374 2318.6 372 2347 371 2351.1 369 2354.7 367 2355 364 2343.3 362 2340.3 360 2338.6 357 2337.3 352 2337 351 2317.6 349 2306.7 348 2304.9 344 2301.5 339 2300.3 334 2301.5 330 2304.9 328 2309.2 326 2317.5 322 2345.3 318 2351.1 314 2367.7 311 2393.2 306 2397.2 299 2400.8 297 2398.4 295 2340.2 294 2335.6 291 2331.7 286 2329.3 281 2329.6 278 2330.9 276 2332.6 274 2335.6 269 2362.6 264 2370.7 262 2370.9 260 2369.3 257 2361.4 256 2355 247 2263.5 246 2258.9 242 2253.4 239 2251.2 234 2250 229 2251.2 225 2254.6 224 2256.4 223 2261 221 2412.3 220 2422.5 219 2423.3 218 2419.2 216 2400.9 215 2396.3 210 2386.3 209 2383.3 204 2360.8Z" fill="#00f" stroke="#00f" stroke-width="10" stroke-linejoin="round"/>
<path d="M198 2359.3 200 2354.4 211 2347.5 212 2346.5 213 2343.5 215 2185.9 218 2178.8 223 2171.6 224 2168.6 225 2122.1 229 2117.2 233 2116.4 237 2118.4 240 2123.3 242 2193.3 243 2196.3 247 2201.6 251 2209.4 253 2242.5 258 2277.5 259 2280.5 260 2282.7 262 2284.2 264 2284.7 266 2284.2 268 2282.7 270 2274.6 273 2270.7 277 2269.5 282 2270.9 286 2276.9 289 2289.6 291 2291.1 296 2292.7 300 2298.7 302 2325.7 304 2330.7 306 2332.3 309 2332.6 312 2330.7 318 2308.6 323 2293.9 337 2277.1 343 2274.5 344 2274.6 356 2279.4 359 2280 376 2273.8 377 2272.8 378 2269.8 379 2247.7 380 2245.7 383 2241.9 393 2239.4 407 2238.1 420 2245.9 429 2252.1 430 2253.6 432 2291.2 433 2294.2 442 2307 445 2308 448 2307 449 2306 450 2303 451 2265.3 452 2257.9 454 2255.2 455 2252.2 456 2245.5 457 2221.5 458 2219.1 464 2218.8 472 2220.2 476 2280.2 477 2288.4 478 2291.4 479 2292.4 485 2296 490 2304.2 492 2324.8 493 2327.8 494 2328.8 496 2329.7 502 2329.8 506 2328.4 507 2327.4 508 2324.4 511 2311.5 518 2304.6 526 2301.9 535 2304.9 539 2312.5 541 2314.1 553 2315.8 562 2321.6 564 2322 566 2321.6 569 2318.5 574 2307.3 582 2301.8 587 2294.1 591 2291.1 595 2290.2 601 2292.2 607 2299.3 608 2307.9 610 2314.3 612 2315.8 616 2317.2 625 2324.8 631 2331.8 634 2332.8 636 2332.4 641 2329.2 649 2325.8 650 2324.8 651 2321.8 653 2105.5 661 2102 669 2105.3 670 2136.9 671 2209.8 672 2212.8 674 2214.4 684 2215.3 685 2217.1 686 2332.6 687 2357.6 689 2366.9 691 2369 693 2369.9 695 2369.9 698 2368 699 2365 701 2350.5 703 2346.3 704 2345.6 709 2343.9 715 2346.1 718 2351.1 720 2352.7 724 2352.9 726 2352 727 2351 728 2348 731 2331.9 735 2324.9 736 2324.4 744 2322.4 751 2324.3 752 2325.5 757 2336.8 759 2338.7 764 2342.5 766 2343.4 769 2343.2 773 2341.4 778 2344.7 779 2345.9 782 2354.7 785 2357 787 2357.5 798 2357.4 800 2356.5 802 2354.1 803 2351.1 804 2331.1 805 2326.1 811 2325.4 819 2327.2 821 2358.9 823 2365.4 829 2370.7 834 2376.8 837 2412.4 843 2432.1 844 2433.1 853 2435.6 855 2435.2 857 2433.6 862 2416.6 865 2390 868 2380.2 872 2377.4 878 2377.3 882 2375.5 891 2374.4 900 2376.3 901 2379.7 903 2400.7 904 2406.5 909 2421.5 914 2444 917 2490.8 919 2497.1 923 2500.1 926 2501.6 936 2503.2 938 2502.7 948 2497.7 949 2496.7 950 2493.7 952 2452.7 954 2339 964 2338.6 979 2331.8 987 2325.1 995 2323.9 997 2324.9 1001 2343.2 1007 2352.2 1015 2359.1 1017 2365.1 1019 2368.3 1021 2369.2 1023 2369.2 1026 2367.3 1031 2350.6 1036 2346.6 1042 2346 1047 2349.6 1052 2367.1 1053 2367.6 1053 2367.6 1052 2367.1 1050 2370.7 1044 2375.5 1040 2391.8 1033 2434.8 1032 2437.4 1028 2440 1027 2440.4 1022 2438.8 1015 2430.8 1014 2424.6 1012 2401.5 1011 2398.5 1008 2396.6 993 2396.5 991 2397 989 2398.5 985 2412.5 983 2448 975 2453.7 967 2462.3 966 2465.3 965 2485.4 964 2537.9 962 2562.2 954 2562.6 947 2567.1 941 2562.6 934 2559.9 931 2546.9 928 2544.7 926 2544.3 924 2544.7 920 2547.3 915 2549.3 907 2545.7 906 2538.7 904 2508.4 894 2475.4 891 2473.5 880 2473.3 877 2475.2 871 2496.7 868 2502.9 864 2503.6 858 2499 856 2498.1 853 2498.4 851 2500 850 2503 846 2531 845 2532.8 840 2534.2 834 2532.9 833 2528.2 829 2469 822 2448 819 2446.1 817 2446.1 815 2447 814 2448 813 2451 811 2585.6 810 2600.9 796 2601.8 795 2576.8 794 2460.8 793 2428.9 792 2425.9 790 2424.4 779 2421.2 772 2420.2 771 2417 769 2395.4 768 2392.4 767 2391.4 764 2390.4 756 2391.7 755 2391.4 749 2388 745 2381.4 743 2379.8 740 2379.5 736 2381.9 735 2384.9 732 2405.9 727 2408.4 726 2408.3 723 2407.3 717 2403.1 714 2402.8 707 2406.1 700 2410.5 699 2413.5 698 2420 694 2476.4 693 2483 684 2484 677 2484 676 2465.8 675 2423.1 674 2420.1 672 2418.5 669 2418.2 667 2419.1 666 2420.1 665 2423.1 661 2468.3 655 2470.1 647 2468.7 646 2455 644 2390.5 643 2373.8 642 2370.8 640 2369.2 631 2366 629 2366.4 627 2368 625 2376.3 622 2398.3 621 2400.1 613 2399.7 610 2398.4 608 2381.4 606 2373.3 598 2363.9 591 2360.2 581 2358.4 572 2355.4 570 2355.2 554 2356.8 544 2363 534 2366 531 2368.1 528 2374.1 521 2382.5 519 2388.1 517 2397.4 510 2398.9 503 2398.3 499 2394 497 2367.9 496 2364.9 494 2363.4 491 2363 489 2363.9 482 2369.3 478 2369.9 477 2369.8 474 2366.4 473 2357.4 471 2321.9 470 2318.9 469 2317.9 466 2316.9 463 2317.9 459 2321.9 452 2339.9 450 2356.8 449 2361.3 444 2370.2 434 2374.9 422 2373.4 418 2369.4 417 2344.4 416 2280.4 415 2272.3 414 2269.3 413 2268.3 405 2265.3 403 2265.6 395 2268.4 393 2270.1 392 2273.1 389 2291.1 385 2309.8 381 2315.4 380 2318.4 378 2347 377 2352.7 374 2358.5 367 2360.9 362 2358.5 358 2344.8 356 2343.2 349 2341.7 346 2338.4 345 2316.8 344 2311.3 343 2308.3 341 2306.7 338 2306.4 336 2307.3 335 2308.3 334 2310.8 332 2317.3 328 2344 324 2349.7 323 2352.7 320 2367.7 317 2393.3 310 2400.3 299 2405.2 298 2405 295 2403.8 291 2397.6 289 2340.2 288 2337.2 287 2336.2 285 2335.3 283 2335.3 280 2337.2 279 2340.2 277 2352.6 274 2366.1 268 2374.3 262 2376 255 2370 252 2362 250 2354.1 241 2263.5 240 2260.5 238 2258 236 2256.4 234 2256 232 2256.4 230 2258 229 2261 227 2410.6 226 2420.9 220 2422.4 213 2421.3 210 2398 209 2395 204 2387.5 198 2361.7Z" fill="#0f0" stroke="#0f0" stroke-width="10" stroke-linejoin="round"/>
<rect x="207.8" y="2324.8" width="25.2" height="20.9" fill="#f00"/>
<rect x="213.9" y="2324.8" width="13" height="20.9" fill="#00f"/>
<rect x="240.6" y="2238.3" width="18.4" height="20.6" fill="#f00"/>
<rect x="243.3" y="2238.3" width="13" height="20.6" fill="#00f"/>
<rect x="268.2" y="2321.8" width="19.9" height="20.9" fill="#f00"/>
<rect x="271.7" y="2321.8" width="13" height="20.9" fill="#00f"/>
<rect x="286.6" y="2317.2" width="21.5" height="18.4" fill="#f00"/>
<rect x="290.9" y="2317.2" width="13" height="18.4" fill="#00f"/>
<rect x="446.2" y="2303.4" width="16.9" height="18.4" fill="#f00"/>
<rect x="448.1" y="2303.4" width="13" height="18.4" fill="#00f"/>
<rect x="947" y="2469" width="23.6" height="21.5" fill="#f00"/>
<rect x="952.3" y="2469" width="13" height="21.5" fill="#00f"/>
<rect x="897.6" y="2476.7" width="21.5" height="18.4" fill="#f00"/>
<rect x="901.9" y="2476.7" width="13" height="18.4" fill="#00f"/>
<rect x="669.1" y="2423" width="7.7" height="19.9" fill="#f00"/>
<rect x="666.4" y="2423" width="13" height="19.9" fill="#00f"/>
<g font-size="56">
<text class="t" x="186.5" y="2051.6" text-anchor="end" style="font-size:56px">2</text>
<text class="t" x="186.5" y="2211.3" text-anchor="end" style="font-size:56px">1</text>
<text class="t" x="186.5" y="2371" text-anchor="end" style="font-size:56px">0</text>
<text class="t" x="186.5" y="2530.6" text-anchor="end" style="font-size:56px">-1</text>
<text class="t" x="186.5" y="2690.3" text-anchor="end" style="font-size:56px">-2</text>
<text class="t" x="204.5" y="2745.4" text-anchor="middle" style="font-size:56px">0</text>
<text class="t" x="623.6" y="2745.4" text-anchor="middle" style="font-size:56px">5000</text>
<text class="t" x="1042.8" y="2745.4" text-anchor="middle" style="font-size:56px">10000</text>
</g>
<text class="t" x="625.1" y="2827.3" text-anchor="middle" style="font-size:61px"><tspan font-style="italic">t</tspan> / s</text>
</g>
<g id="p7">
<path d="M1767.1 2030.3V2669M1347.8 2243.2H2186.4M1347.8 2456.1H2186.4" stroke="#dedede" stroke-width="3.5" fill="none"/>
<path d="M1767.1 2669v-9.5M1767.1 2030.3v9.5M1347.8 2243.2h9.5M2186.4 2243.2h-9.5M1347.8 2456.1h9.5M2186.4 2456.1h-9.5" stroke="#262626" stroke-width="4" fill="none"/>
<rect x="1347.8" y="2030.3" width="838.6" height="638.7" stroke="#262626" stroke-width="4" fill="none"/>
<clipPath id="cp7"><rect x="1307.8" y="1990.3" width="918.6" height="718.7"/></clipPath>
<path d="M1346 2356.2 1352 2358.1 1355 2358 1358 2357 1362 2353.5 1363 2351.8 1364 2347.2 1365 2327 1366 2160.8 1367 2144.1 1368 2142.9 1369 2143 1370 2147.3 1372 2191.3 1373 2195.9 1375 2198.8 1377 2200.5 1382 2202.2 1386 2201.9 1394 2198.5 1395 2199.1 1401 2211.7 1403 2213.9 1413 2220.7 1418 2221.6 1422 2220.8 1425 2222.2 1429 2228.9 1430 2237.2 1432 2272.5 1433 2277.1 1435 2280 1438 2282.3 1442 2283.5 1446 2283.1 1449 2281.7 1452 2278.8 1463 2259 1464 2257.9 1468 2255.9 1471 2255.8 1476 2259.4 1482 2265.3 1487 2267.8 1491 2268.2 1499 2266.8 1505 2266.8 1507 2267.3 1510 2272.5 1513 2283.1 1515 2286.1 1519 2288.8 1522 2289.5 1526 2289.1 1529 2287.8 1532 2285.4 1537 2283 1538 2283.2 1542 2286.2 1544 2290.5 1546 2292.6 1551 2294.9 1555 2294.9 1558 2293.9 1561 2291.7 1564 2287.8 1567 2289.4 1568 2332.6 1570 2341.2 1573 2345.1 1578 2347.4 1583 2347.2 1591 2343.3 1592 2343.2 1593 2344.4 1595 2360.8 1596 2365.4 1599 2373.5 1600 2385.1 1602 2397 1604 2400 1606 2401.7 1615 2404.9 1625 2416 1630 2418.3 1634 2418.3 1637 2417.3 1640 2415 1642 2412.1 1643 2407.5 1645 2373.8 1646 2371.4 1652 2364.8 1659 2354.9 1662 2340.5 1663 2339.8 1664 2339.8 1665 2341.5 1667 2358.5 1668 2363.1 1670 2366.6 1673 2369.5 1676 2370.8 1681 2371.9 1683 2374.9 1684 2383.5 1686 2391.4 1688 2394.4 1690 2396.1 1695 2397.8 1698 2397.7 1701 2396.6 1705 2393.2 1706 2391.4 1707 2386.8 1709 2374.7 1716 2365.4 1722 2353.8 1725 2351.7 1726 2351.3 1728 2352.7 1729 2354.8 1731 2362.8 1733 2365.8 1737 2368.5 1741 2369.3 1746 2368.3 1756 2362.7 1760 2361.4 1769 2363.4 1779 2361.3 1783 2358.9 1792 2351.3 1795 2346.9 1799 2338.9 1800 2334.3 1802 2283.7 1803 2281.3 1806 2278.9 1809 2274.2 1813 2263.9 1814 2259.3 1816 2223.2 1819 2221.4 1821 2219.2 1822 2217.5 1823 2212.9 1824 2164.2 1825 2163.7 1827 2164.3 1833 2172.4 1836 2174.7 1839 2175.7 1842 2176 1845 2175.6 1855 2171.2 1857 2169.5 1859 2166.6 1862 2146 1863 2144.5 1876 2137.9 1886 2130 1888 2127 1890 2116.9 1891 2116.9 1895 2119.1 1899 2125 1902 2127.3 1906 2128.5 1910 2128.3 1914 2126.7 1917 2123.8 1918 2122.1 1920 2113.1 1923 2111.6 1925 2138.7 1926 2143.3 1932 2154.8 1935 2157.7 1940 2159.7 1942 2166.8 1944 2169.7 1946 2171.4 1951 2173.2 1958 2172.2 1960 2172.9 1963 2191.3 1966 2195.6 1968 2197.3 1971 2198.6 1974 2199.1 1977 2198.6 1982 2196.9 1985 2194.6 1987 2191.6 1989 2182.6 1990 2160.6 1991 2160.2 1997 2164.1 2000 2165.2 2004 2165.2 2009 2163.2 2013 2163.7 2017 2165.4 2019 2174.1 2022 2179.4 2030 2185.2 2041 2190.8 2056 2193.2 2059 2192.8 2062 2191.4 2064 2189.7 2066 2186.8 2068 2174.6 2069 2172.9 2073 2171.4 2084 2169.5 2088 2166.8 2090 2163.9 2092 2150.8 2093 2130.8 2094 2121.5 2096 2120.6 2097 2121.4 2099 2183.4 2101 2220.9 2103 2229 2107 2234 2109 2253.9 2110 2258.5 2113 2262.4 2118 2264.7 2123 2264.5 2128 2261.6 2133 2263.3 2136 2263.7 2146 2261.9 2155 2257.7 2157 2256 2159 2253 2161 2240.3 2162 2223.8 2164 2222.2 2166 2219.2 2167 2214.6 2169 2163.1 2170 2162.9 2172 2164.4 2173 2177.8 2175 2230.8 2178 2247 2180 2266.3 2187 2305.1 2188 2308.1 2188 2308.1 2187 2311 2185 2351 2184 2353.4 2183 2353.5 2182 2350.6 2179 2326.4 2178 2321.8 2176 2318.8 2172 2316.1 2168 2315.4 2162 2316.2 2153 2310 2150 2309.3 2146 2309.7 2142 2311.8 2138 2317.1 2129 2322.4 2127 2324.5 2124 2329.3 2123 2330.4 2121 2331.2 2110 2324.6 2109 2323.1 2107 2314 2105 2311 2103 2309.3 2101 2298.6 2098 2245.7 2096 2235.9 2095 2234.2 2092 2231.3 2087 2229.5 2081 2229.7 2076 2232 2072 2236.9 2070 2250.5 2069 2252.9 2065 2260.9 2063 2261.9 2062 2260 2061 2238 2060 2233.4 2058 2230.4 2054 2227.7 2050 2227 2046 2227.4 2043 2228.8 2041 2230.4 2039 2233.4 2037 2238.1 2030 2242.3 2027 2246.2 2025 2253 2024 2271 2020 2272.6 2019 2272.3 2015 2267.5 2011 2265.3 2004 2263.5 2000 2263.8 1997 2265.2 1994 2268.1 1993 2269.8 1991 2277.8 1990 2279.4 1980 2280.5 1977 2281.8 1974 2284.7 1973 2286.5 1972 2291 1971 2300.2 1970 2321.3 1969 2322.8 1964 2323.8 1961 2325.6 1959 2327.7 1957 2331.6 1956 2336.2 1955 2365.2 1954 2373.8 1953 2374.2 1952 2373.3 1950 2300.2 1949 2295.6 1947 2292.7 1944 2290.4 1943 2287.7 1941 2240.3 1940 2235.7 1939 2233.9 1931 2227 1927 2219.7 1925 2202.7 1923 2193 1920 2189.1 1916 2187 1912 2186.7 1905 2188.2 1904 2187.8 1901 2178.1 1899 2174.5 1897 2172.4 1894 2170.6 1891 2169.9 1888 2170 1881 2172.7 1868 2169.9 1863 2170.1 1859 2172.2 1856 2176.1 1847 2208.6 1844 2212 1843 2212.4 1835 2212.7 1831 2213.8 1828 2216.1 1826 2219 1824 2232.3 1823 2286.3 1822 2303.6 1819 2308.3 1818 2312.9 1815 2351.9 1813 2390 1809 2389.6 1805 2390.8 1801 2393.9 1799 2396.9 1798 2401.4 1797 2418.4 1796 2419.7 1795 2410.9 1794 2383.1 1793 2378.6 1790 2374.7 1785 2372.3 1781 2372.3 1778 2373.3 1771 2379.3 1763 2383.9 1754 2387.4 1746 2392.2 1743 2395.1 1741 2399.5 1738 2408.7 1734 2436.2 1733 2437.9 1732 2438.6 1728 2437.6 1719 2431.2 1716 2430.5 1712 2430.9 1709 2432.2 1706 2435.1 1705 2436.9 1703 2444.9 1702 2446.7 1699 2443.9 1696 2431.9 1695 2430.1 1691 2426.4 1684 2423.6 1681 2416.6 1675 2410.4 1670 2402.8 1667 2400.4 1664 2399 1661 2398.6 1658 2399 1655 2400.4 1653 2402.1 1648 2408.8 1647 2413.4 1644 2438.4 1641 2442.8 1633 2448.2 1631 2450.3 1630 2452.1 1627 2463.2 1625 2464.2 1624 2462.3 1622 2454.5 1619 2446.1 1616 2442.2 1613 2440.4 1609 2439.7 1599 2442.2 1597 2414.4 1596 2409.8 1593 2405.9 1590 2404.1 1587 2403.4 1583 2403.8 1580 2405.2 1578 2406.8 1576 2409.8 1573 2420.8 1572 2421.7 1570 2419.6 1568 2407.1 1567 2371.1 1566 2352.5 1565 2347.9 1563 2344.9 1561 2343.2 1556 2341.5 1551 2332.9 1549 2331.2 1546 2329.9 1542 2329.5 1539 2330.2 1536 2332 1532 2336.6 1528 2337.6 1526 2336.9 1521 2323.3 1515 2301 1508 2289.5 1496 2280.7 1493 2279.3 1483 2277.8 1474 2274.3 1469 2274.5 1465 2276.6 1462 2279.9 1451 2297.8 1447 2313.3 1444 2316 1439 2314.3 1432 2312.9 1431 2312.4 1430 2305.7 1427 2261.7 1426 2257.1 1422 2251.7 1419 2249.9 1415 2248.7 1414 2247.5 1412 2239 1410 2236 1408 2234.3 1404 2232.7 1394 2231.1 1389 2231.8 1386 2233.5 1384 2235.7 1383 2237.5 1382 2242 1380 2274 1377 2274.5 1374 2275.8 1372 2277.5 1370 2280.5 1369 2285 1368 2298 1366 2560.9 1365 2600 1363 2601.3 1362 2599.2 1361 2512 1359 2457.3 1357 2446.9 1355 2443.9 1353 2442.2 1352 2438.7 1350 2425.4 1346 2410.8Z" fill="#f00" stroke="#f00" stroke-width="22" stroke-linejoin="round"/>
<path d="M1346 2356.2 1352 2358.1 1355 2358 1358 2357 1362 2353.5 1363 2351.8 1364 2347.2 1365 2327 1366 2160.8 1367 2144.1 1368 2142.9 1369 2143 1370 2147.3 1372 2191.3 1373 2195.9 1375 2198.8 1377 2200.5 1382 2202.2 1386 2201.9 1394 2198.5 1395 2199.1 1401 2211.7 1403 2213.9 1413 2220.7 1418 2221.6 1422 2220.8 1425 2222.2 1429 2228.9 1430 2237.2 1432 2272.5 1433 2277.1 1435 2280 1438 2282.3 1442 2283.5 1446 2283.1 1449 2281.7 1452 2278.8 1463 2259 1464 2257.9 1468 2255.9 1471 2255.8 1476 2259.4 1482 2265.3 1487 2267.8 1491 2268.2 1499 2266.8 1505 2266.8 1507 2267.3 1510 2272.5 1513 2283.1 1515 2286.1 1519 2288.8 1522 2289.5 1526 2289.1 1529 2287.8 1532 2285.4 1537 2283 1538 2283.2 1542 2286.2 1544 2290.5 1546 2292.6 1551 2294.9 1555 2294.9 1558 2293.9 1561 2291.7 1564 2287.8 1567 2289.4 1568 2332.6 1570 2341.2 1573 2345.1 1578 2347.4 1583 2347.2 1591 2343.3 1592 2343.2 1593 2344.4 1595 2360.8 1596 2365.4 1599 2373.5 1600 2385.1 1602 2397 1604 2400 1606 2401.7 1615 2404.9 1625 2416 1630 2418.3 1634 2418.3 1637 2417.3 1640 2415 1642 2412.1 1643 2407.5 1645 2373.8 1646 2371.4 1652 2364.8 1659 2354.9 1662 2340.5 1663 2339.8 1664 2339.8 1665 2341.5 1667 2358.5 1668 2363.1 1670 2366.6 1673 2369.5 1676 2370.8 1681 2371.9 1683 2374.9 1684 2383.5 1686 2391.4 1688 2394.4 1690 2396.1 1695 2397.8 1698 2397.7 1701 2396.6 1705 2393.2 1706 2391.4 1707 2386.8 1709 2374.7 1716 2365.4 1722 2353.8 1725 2351.7 1726 2351.3 1728 2352.7 1729 2354.8 1731 2362.8 1733 2365.8 1737 2368.5 1741 2369.3 1746 2368.3 1756 2362.7 1760 2361.4 1769 2363.4 1779 2361.3 1783 2358.9 1792 2351.3 1795 2346.9 1799 2338.9 1800 2334.3 1802 2283.7 1803 2281.3 1806 2278.9 1809 2274.2 1813 2263.9 1814 2259.3 1816 2223.2 1819 2221.4 1821 2219.2 1822 2217.5 1823 2212.9 1824 2164.2 1825 2163.7 1827 2164.3 1833 2172.4 1836 2174.7 1839 2175.7 1842 2176 1845 2175.6 1855 2171.2 1857 2169.5 1859 2166.6 1862 2146 1863 2144.5 1876 2137.9 1886 2130 1888 2127 1890 2116.9 1891 2116.9 1895 2119.1 1899 2125 1902 2127.3 1906 2128.5 1910 2128.3 1914 2126.7 1917 2123.8 1918 2122.1 1920 2113.1 1923 2111.6 1925 2138.7 1926 2143.3 1932 2154.8 1935 2157.7 1940 2159.7 1942 2166.8 1944 2169.7 1946 2171.4 1951 2173.2 1958 2172.2 1960 2172.9 1963 2191.3 1966 2195.6 1968 2197.3 1971 2198.6 1974 2199.1 1977 2198.6 1982 2196.9 1985 2194.6 1987 2191.6 1989 2182.6 1990 2160.6 1991 2160.2 1997 2164.1 2000 2165.2 2004 2165.2 2009 2163.2 2013 2163.7 2017 2165.4 2019 2174.1 2022 2179.4 2030 2185.2 2041 2190.8 2056 2193.2 2059 2192.8 2062 2191.4 2064 2189.7 2066 2186.8 2068 2174.6 2069 2172.9 2073 2171.4 2084 2169.5 2088 2166.8 2090 2163.9 2092 2150.8 2093 2130.8 2094 2121.5 2096 2120.6 2097 2121.4 2099 2183.4 2101 2220.9 2103 2229 2107 2234 2109 2253.9 2110 2258.5 2113 2262.4 2118 2264.7 2123 2264.5 2128 2261.6 2133 2263.3 2136 2263.7 2146 2261.9 2155 2257.7 2157 2256 2159 2253 2161 2240.3 2162 2223.8 2164 2222.2 2166 2219.2 2167 2214.6 2169 2163.1 2170 2162.9 2172 2164.4 2173 2177.8 2175 2230.8 2178 2247 2180 2266.3 2187 2305.1 2188 2308.1 2188 2308.1 2187 2311 2185 2351 2184 2353.4 2183 2353.5 2182 2350.6 2179 2326.4 2178 2321.8 2176 2318.8 2172 2316.1 2168 2315.4 2162 2316.2 2153 2310 2150 2309.3 2146 2309.7 2142 2311.8 2138 2317.1 2129 2322.4 2127 2324.5 2124 2329.3 2123 2330.4 2121 2331.2 2110 2324.6 2109 2323.1 2107 2314 2105 2311 2103 2309.3 2101 2298.6 2098 2245.7 2096 2235.9 2095 2234.2 2092 2231.3 2087 2229.5 2081 2229.7 2076 2232 2072 2236.9 2070 2250.5 2069 2252.9 2065 2260.9 2063 2261.9 2062 2260 2061 2238 2060 2233.4 2058 2230.4 2054 2227.7 2050 2227 2046 2227.4 2043 2228.8 2041 2230.4 2039 2233.4 2037 2238.1 2030 2242.3 2027 2246.2 2025 2253 2024 2271 2020 2272.6 2019 2272.3 2015 2267.5 2011 2265.3 2004 2263.5 2000 2263.8 1997 2265.2 1994 2268.1 1993 2269.8 1991 2277.8 1990 2279.4 1980 2280.5 1977 2281.8 1974 2284.7 1973 2286.5 1972 2291 1971 2300.2 1970 2321.3 1969 2322.8 1964 2323.8 1961 2325.6 1959 2327.7 1957 2331.6 1956 2336.2 1955 2365.2 1954 2373.8 1953 2374.2 1952 2373.3 1950 2300.2 1949 2295.6 1947 2292.7 1944 2290.4 1943 2287.7 1941 2240.3 1940 2235.7 1939 2233.9 1931 2227 1927 2219.7 1925 2202.7 1923 2193 1920 2189.1 1916 2187 1912 2186.7 1905 2188.2 1904 2187.8 1901 2178.1 1899 2174.5 1897 2172.4 1894 2170.6 1891 2169.9 1888 2170 1881 2172.7 1868 2169.9 1863 2170.1 1859 2172.2 1856 2176.1 1847 2208.6 1844 2212 1843 2212.4 1835 2212.7 1831 2213.8 1828 2216.1 1826 2219 1824 2232.3 1823 2286.3 1822 2303.6 1819 2308.3 1818 2312.9 1815 2351.9 1813 2390 1809 2389.6 1805 2390.8 1801 2393.9 1799 2396.9 1798 2401.4 1797 2418.4 1796 2419.7 1795 2410.9 1794 2383.1 1793 2378.6 1790 2374.7 1785 2372.3 1781 2372.3 1778 2373.3 1771 2379.3 1763 2383.9 1754 2387.4 1746 2392.2 1743 2395.1 1741 2399.5 1738 2408.7 1734 2436.2 1733 2437.9 1732 2438.6 1728 2437.6 1719 2431.2 1716 2430.5 1712 2430.9 1709 2432.2 1706 2435.1 1705 2436.9 1703 2444.9 1702 2446.7 1699 2443.9 1696 2431.9 1695 2430.1 1691 2426.4 1684 2423.6 1681 2416.6 1675 2410.4 1670 2402.8 1667 2400.4 1664 2399 1661 2398.6 1658 2399 1655 2400.4 1653 2402.1 1648 2408.8 1647 2413.4 1644 2438.4 1641 2442.8 1633 2448.2 1631 2450.3 1630 2452.1 1627 2463.2 1625 2464.2 1624 2462.3 1622 2454.5 1619 2446.1 1616 2442.2 1613 2440.4 1609 2439.7 1599 2442.2 1597 2414.4 1596 2409.8 1593 2405.9 1590 2404.1 1587 2403.4 1583 2403.8 1580 2405.2 1578 2406.8 1576 2409.8 1573 2420.8 1572 2421.7 1570 2419.6 1568 2407.1 1567 2371.1 1566 2352.5 1565 2347.9 1563 2344.9 1561 2343.2 1556 2341.5 1551 2332.9 1549 2331.2 1546 2329.9 1542 2329.5 1539 2330.2 1536 2332 1532 2336.6 1528 2337.6 1526 2336.9 1521 2323.3 1515 2301 1508 2289.5 1496 2280.7 1493 2279.3 1483 2277.8 1474 2274.3 1469 2274.5 1465 2276.6 1462 2279.9 1451 2297.8 1447 2313.3 1444 2316 1439 2314.3 1432 2312.9 1431 2312.4 1430 2305.7 1427 2261.7 1426 2257.1 1422 2251.7 1419 2249.9 1415 2248.7 1414 2247.5 1412 2239 1410 2236 1408 2234.3 1404 2232.7 1394 2231.1 1389 2231.8 1386 2233.5 1384 2235.7 1383 2237.5 1382 2242 1380 2274 1377 2274.5 1374 2275.8 1372 2277.5 1370 2280.5 1369 2285 1368 2298 1366 2560.9 1365 2600 1363 2601.3 1362 2599.2 1361 2512 1359 2457.3 1357 2446.9 1355 2443.9 1353 2442.2 1352 2438.7 1350 2425.4 1346 2410.8Z" fill="#00f" stroke="#00f" stroke-width="10" stroke-linejoin="round"/>
<path d="M1340 2355.9 1354 2355.8 1357 2353.9 1358 2350.9 1359 2330.4 1360 2166.1 1361 2147.8 1362 2145.1 1368 2144.3 1375 2145.1 1376 2150.1 1378 2193.1 1379 2196.1 1388 2202.2 1394 2203.7 1400 2206.1 1406 2214.5 1414 2221.1 1417 2222.5 1430 2225.1 1435 2231 1436 2239.6 1438 2272.6 1439 2275.6 1440 2276.6 1442 2277.5 1445 2277.2 1454 2270.7 1455 2269.7 1460 2257.3 1467 2251.4 1473 2250.8 1480 2255.1 1485 2262.6 1489 2265.2 1498 2263.8 1507 2261.3 1512 2262.8 1516 2271.2 1517 2279.5 1519 2287.8 1521 2289.4 1524 2289.7 1528 2288.2 1538 2287 1547 2289.1 1550 2292.9 1553 2294.5 1566 2293.1 1572 2293.8 1573 2294.7 1574 2336 1576 2342.9 1578 2344.5 1580 2344.9 1586 2343.6 1592 2343.6 1598 2344.5 1599 2347 1601 2361 1605 2376.1 1606 2386.1 1607 2392.6 1608 2395.6 1618 2402.2 1629 2414.5 1632 2415.5 1635 2414.5 1636 2413.5 1637 2410.5 1639 2376.8 1640 2372.1 1653 2359.1 1655 2352.1 1656 2342.1 1663 2341.5 1670 2342.8 1671 2345.2 1673 2360.2 1674 2363.2 1675 2364.8 1677 2366.4 1685 2368.2 1688 2371.9 1689 2374.9 1690 2383.5 1692 2390.7 1694 2392.2 1696 2392.7 1698 2392.2 1700 2390.7 1703 2378.5 1711 2365.2 1716 2355.3 1717 2354.4 1726 2354.4 1734 2355.4 1737 2364.4 1739 2366 1742 2366.3 1745 2365 1754 2358.6 1761 2356.3 1769 2357.4 1777 2355.6 1788 2346.7 1793 2337.3 1794 2334.3 1796 2289 1797 2283.5 1802 2279.1 1808 2259.3 1810 2218.5 1815 2216.9 1816 2215.9 1817 2212.9 1818 2169.1 1819 2166.7 1821 2165.3 1826 2164.4 1832 2166.4 1838 2172.1 1841 2173.1 1844 2172.7 1851 2169.7 1853 2168.1 1854 2165.1 1857 2145.7 1865 2136.8 1880 2130.1 1882 2128.5 1883 2125.5 1884 2118.3 1885 2116.5 1892 2114.2 1901 2118.7 1905 2122.8 1908 2123.1 1912 2120.5 1913 2117.5 1914 2109.7 1924 2104.4 1929 2108.9 1931 2147.1 1932 2150.1 1934 2151.6 1945 2155 1947 2168.5 1948 2171.5 1949 2172.5 1958 2176.2 1965 2177.3 1966 2178.6 1968 2191.6 1969 2194.6 1971 2196.1 1973 2196.8 1975 2196.8 1977 2195.9 1981 2190.9 1983 2183.8 1984 2167.8 1985 2166.9 1990 2166.6 2002 2167.2 2004 2166.8 2006 2165.2 2009 2157.7 2022 2161.4 2024 2172.1 2026 2178.1 2033 2184.6 2045 2188.6 2058 2186.8 2060 2185.2 2062 2177.4 2063 2175.4 2082 2170.1 2084 2168.5 2085 2165.5 2086 2157 2088 2125.8 2096 2123.1 2103 2125.8 2105 2187 2107 2224 2109 2230.1 2113 2232.7 2115 2257.4 2116 2260.4 2119 2262.3 2135 2262.4 2138 2261.8 2146 2255.6 2152 2252.5 2153 2251.5 2154 2248.5 2155 2241.8 2156 2226.5 2160 2223.7 2161 2220.7 2163 2167 2171 2166.8 2178 2168.9 2181 2248.2 2182 2251.2 2184 2252.8 2185 2269.2 2186 2307.2 2187 2310.2 2190 2312.7 2192 2313.1 2194 2310.5 2194 2310.5 2193 2312 2191 2342 2190 2343.9 2185 2344.9 2176 2345 2173 2318.7 2172 2315.7 2169 2313.8 2148 2310.7 2145 2312.6 2143 2319.4 2142 2321 2134 2323.3 2129 2327.5 2121 2327.5 2110 2326 2104 2326 2102 2312.3 2101 2309.3 2098 2306.9 2097 2304.4 2095 2292.4 2092 2245.1 2090 2237.5 2088 2235.9 2086 2235.5 2082 2235.6 2080 2236.5 2078 2238.5 2077 2241.5 2076 2250.5 2075 2253.8 2070 2261.8 2062 2264.4 2057 2263 2056 2257.8 2055 2237.8 2054 2234.8 2051 2231.9 2048 2231.6 2043 2234.5 2035 2237.1 2033 2238.7 2031 2244.4 2030 2268.4 2029 2274.7 2021 2276.2 2015 2275.7 2012 2271.4 2010 2269.9 2007 2269.2 2002 2269.3 1999 2271.2 1997 2277.8 1996 2285 1982 2286.2 1979 2288 1978 2291 1977 2298.5 1976 2314.8 1967 2316.7 1965 2317.6 1964 2318.6 1962 2324.3 1961 2358.3 1960 2369.6 1953 2370.4 1946 2369.5 1944 2300.2 1943 2297.2 1942 2296.2 1938 2294.9 1937 2286.8 1935 2235.7 1934 2232.7 1927 2226.9 1926 2225.3 1922 2215.3 1919 2198.4 1917 2191.5 1916 2190.5 1913 2189.5 1905 2190.8 1899 2189 1895 2179.3 1893 2176.6 1891 2175.7 1883 2174.1 1875 2172.8 1872 2172.9 1864 2176 1862 2177.6 1856 2199.9 1852 2211.8 1847 2216.2 1839 2217.2 1834 2218.7 1832 2220.3 1831 2223.3 1830 2230.7 1829 2274.7 1828 2293.2 1824 2306.8 1819 2391.2 1815 2391.9 1809 2392 1807 2392.9 1805 2395.4 1804 2398.4 1803 2415.4 1802 2419.2 1797 2420.3 1790 2419.2 1789 2408.9 1788 2383.1 1787 2380.1 1784 2378.2 1781 2378.6 1776 2381.8 1766 2387 1757 2389.8 1748 2398.4 1743 2413.3 1740 2435 1739 2439.2 1734 2443.4 1715 2436.4 1713 2436.8 1711 2438.4 1709 2443.4 1708 2444.7 1702 2445.6 1698 2445.6 1694 2444 1690 2429.8 1687 2427.4 1679 2425.1 1676 2416.9 1669 2406.9 1663 2404.5 1660 2404.7 1657 2406.6 1654 2410.4 1653 2413.4 1650 2436.5 1646 2440.5 1636 2447.5 1632 2465.5 1625 2468.1 1619 2465.1 1617 2458.5 1614 2443 1613 2440 1612 2439 1609 2438 1598 2438 1593 2437.2 1591 2414.3 1590 2411.3 1589 2410.3 1587 2409.4 1585 2409.4 1582 2411.3 1578 2424.3 1577 2425.1 1571 2426.6 1565 2420.9 1562 2398 1561 2367 1560 2350.8 1559 2347.8 1557 2346.2 1551 2344.8 1548 2338.8 1546 2336.5 1544 2335.6 1542 2335.6 1540 2336.5 1535 2342.1 1528 2343.8 1521 2338.4 1516 2327.2 1509 2302.3 1505 2292.9 1503 2290.1 1491 2284.9 1482 2283.8 1473 2280.2 1470 2280.5 1467 2283.2 1457 2299.4 1453 2309.9 1445 2317.9 1444 2318.3 1437 2318.3 1430 2316.9 1425 2313.4 1423 2278.8 1421 2261.3 1420 2258.3 1417 2255.6 1410 2253.6 1409 2252.1 1406 2240.5 1405 2239.5 1403 2238.6 1394 2237.1 1391 2237.5 1389 2239 1388 2242 1386 2274.4 1385 2278.8 1384 2280.4 1379 2280.1 1376 2282 1375 2285 1374 2298 1372 2556.6 1371 2588.3 1356 2588.3 1355 2511.4 1353 2455.9 1351 2446.7 1347 2442.3 1344 2422.5 1340 2412Z" fill="#0f0" stroke="#0f0" stroke-width="10" stroke-linejoin="round"/>
<rect x="1353.9" y="2238.3" width="14.4" height="20.6" fill="#f00"/>
<rect x="1354.6" y="2238.3" width="13" height="20.6" fill="#00f"/>
<rect x="1353.9" y="2349.4" width="24.5" height="20.9" fill="#f00"/>
<rect x="1359.7" y="2349.4" width="13" height="20.9" fill="#00f"/>
<rect x="1366.2" y="2415.3" width="12.3" height="18.4" fill="#f00"/>
<rect x="1365.8" y="2415.3" width="13" height="18.4" fill="#00f"/>
<rect x="1812.2" y="2191.4" width="14.7" height="19.9" fill="#f00"/>
<rect x="1813" y="2191.4" width="13" height="19.9" fill="#00f"/>
<rect x="2091.3" y="2200.6" width="19.9" height="20.6" fill="#f00"/>
<rect x="2094.8" y="2200.6" width="13" height="20.6" fill="#00f"/>
<g font-size="56">
<text class="t" x="1328.3" y="2051.6" text-anchor="end" style="font-size:56px">2</text>
<text class="t" x="1328.3" y="2264.5" text-anchor="end" style="font-size:56px">0</text>
<text class="t" x="1328.3" y="2477.4" text-anchor="end" style="font-size:56px">-2</text>
<text class="t" x="1328.3" y="2690.3" text-anchor="end" style="font-size:56px">-4</text>
<text class="t" x="1346.3" y="2745.4" text-anchor="middle" style="font-size:56px">0</text>
<text class="t" x="1765.6" y="2745.4" text-anchor="middle" style="font-size:56px">5000</text>
<text class="t" x="2184.9" y="2745.4" text-anchor="middle" style="font-size:56px">10000</text>
</g>
<text class="t" x="1767.1" y="2827.3" text-anchor="middle" style="font-size:61px"><tspan font-style="italic">t</tspan> / s</text>
</g>
<text class="t l" transform="translate(83.3 472) rotate(-90)" textLength="210.5" lengthAdjust="spacing"><tspan class="m" font-size="64">δ</tspan>v<tspan dy="29" font-size="48">E</tspan><tspan dy="-29">/m/s</tspan></text>
<text class="t l" transform="translate(1196.1 476) rotate(-90)" textLength="214" lengthAdjust="spacing"><tspan class="m" font-size="64">δ</tspan>v<tspan dy="29" font-size="48">N</tspan><tspan dy="-29">/m/s</tspan></text>
<text class="t l" transform="translate(112.7 1418.5) rotate(-90)" textLength="97.5" lengthAdjust="spacing"><tspan class="m" font-size="64">δ</tspan><tspan class="m" font-size="64">θ</tspan>/°</text>
<text class="t l" transform="translate(839.9 1418.5) rotate(-90)" textLength="102.3" lengthAdjust="spacing"><tspan class="m" font-size="64">δ</tspan><tspan class="m" font-size="64">γ</tspan>/°</text>
<text class="t l" transform="translate(1589.1 1422) rotate(-90)" textLength="108.8" lengthAdjust="spacing"><tspan class="m" font-size="64">δ</tspan><tspan class="m" font-size="64">ψ</tspan>/°</text>
<text class="t l" transform="translate(107.9 2417) rotate(-90)"><tspan class="m" font-size="64">δ</tspan>L/m</text>
<text class="t l" transform="translate(1251 2417) rotate(-90)" textLength="131.8" lengthAdjust="spacing"><tspan class="m" font-size="64">δ</tspan><tspan class="m" font-size="64">λ</tspan>/m</text>
<g id="legend"><rect x="488.1" y="310.1" width="494.1" height="210.4" fill="#fff" stroke="#262626" stroke-width="4"/>
<rect x="506" y="337.1" width="186.7" height="25.5" fill="#f00"/>
<circle cx="599.7" cy="415.1" r="6.9" fill="#00f"/>
<path d="M506 479.9H692.7" stroke="#0f0" stroke-width="25.8" stroke-dasharray="89.8 22.2 44.7 22.2" fill="none"/>
<text class="t lg" x="708" y="368.5">SO model</text>
<text class="t lg" x="708" y="433.7">LSE model</text>
<text class="t lg" x="708" y="498.9">RSE model</text>
</g>
<text class="cap" x="888" y="949.7" textLength="548" lengthAdjust="spacing">(<tspan font-weight="bold">a</tspan>) Speed error</text>
<text class="cap" x="839.5" y="1938.8" textLength="646" lengthAdjust="spacing">(<tspan font-weight="bold">b</tspan>) Attitude error</text>
<text class="cap" x="852" y="2925.5" textLength="621" lengthAdjust="spacing">(<tspan font-weight="bold">c</tspan>) Position error</text>
</svg></body></html>
